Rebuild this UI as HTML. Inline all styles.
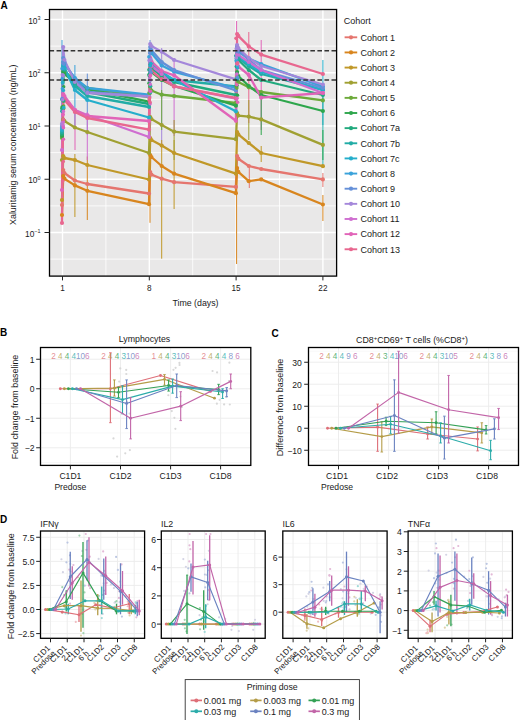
<!DOCTYPE html>
<html><head><meta charset="utf-8"><style>
html,body{margin:0;padding:0;background:#fff;}
svg{display:block;font-family:"Liberation Sans", sans-serif;}
</style></head><body>
<svg width="520" height="720" viewBox="0 0 520 720">
<rect width="520" height="720" fill="#fff"/>
<rect x="49.5" y="9.5" width="287.1" height="266.6" fill="#E9E8E8"/>
<line x1="105.90" y1="9.50" x2="105.90" y2="276.10" stroke="#fff" stroke-width="0.8" />
<line x1="192.70" y1="9.50" x2="192.70" y2="276.10" stroke="#fff" stroke-width="0.8" />
<line x1="279.50" y1="9.50" x2="279.50" y2="276.10" stroke="#fff" stroke-width="0.8" />
<line x1="49.50" y1="259.12" x2="336.60" y2="259.12" stroke="#fff" stroke-width="0.8" />
<line x1="49.50" y1="205.88" x2="336.60" y2="205.88" stroke="#fff" stroke-width="0.8" />
<line x1="49.50" y1="152.62" x2="336.60" y2="152.62" stroke="#fff" stroke-width="0.8" />
<line x1="49.50" y1="99.38" x2="336.60" y2="99.38" stroke="#fff" stroke-width="0.8" />
<line x1="49.50" y1="46.12" x2="336.60" y2="46.12" stroke="#fff" stroke-width="0.8" />
<line x1="62.50" y1="9.50" x2="62.50" y2="276.10" stroke="#fff" stroke-width="1.4" />
<line x1="149.30" y1="9.50" x2="149.30" y2="276.10" stroke="#fff" stroke-width="1.4" />
<line x1="236.10" y1="9.50" x2="236.10" y2="276.10" stroke="#fff" stroke-width="1.4" />
<line x1="322.90" y1="9.50" x2="322.90" y2="276.10" stroke="#fff" stroke-width="1.4" />
<line x1="49.50" y1="232.50" x2="336.60" y2="232.50" stroke="#fff" stroke-width="1.4" />
<line x1="49.50" y1="179.25" x2="336.60" y2="179.25" stroke="#fff" stroke-width="1.4" />
<line x1="49.50" y1="126.00" x2="336.60" y2="126.00" stroke="#fff" stroke-width="1.4" />
<line x1="49.50" y1="72.75" x2="336.60" y2="72.75" stroke="#fff" stroke-width="1.4" />
<line x1="49.50" y1="19.50" x2="336.60" y2="19.50" stroke="#fff" stroke-width="1.4" />
<g><line x1="74.90" y1="65.00" x2="74.90" y2="128.00" stroke="#3AA2DA" stroke-width="1.0"/><line x1="87.30" y1="73.60" x2="87.30" y2="135.00" stroke="#6590D8" stroke-width="1.0"/><line x1="161.70" y1="48.00" x2="161.70" y2="145.00" stroke="#A487DA" stroke-width="1.0"/><line x1="174.10" y1="58.00" x2="174.10" y2="136.00" stroke="#CF6ED0" stroke-width="1.0"/><line x1="248.80" y1="32.00" x2="248.80" y2="123.00" stroke="#E8678F" stroke-width="1.0"/><line x1="261.20" y1="40.00" x2="261.20" y2="130.00" stroke="#E164B8" stroke-width="1.0"/><line x1="322.90" y1="60.00" x2="322.90" y2="125.00" stroke="#25AECB" stroke-width="1.0"/><line x1="74.90" y1="154.00" x2="74.90" y2="217.00" stroke="#C09828" stroke-width="1.0"/><line x1="87.30" y1="156.50" x2="87.30" y2="220.00" stroke="#D8851E" stroke-width="1.0"/><line x1="150.00" y1="140.00" x2="150.00" y2="222.80" stroke="#D8851E" stroke-width="1.0"/><line x1="161.70" y1="140.00" x2="161.70" y2="258.70" stroke="#C09828" stroke-width="1.0"/><line x1="174.10" y1="140.00" x2="174.10" y2="209.00" stroke="#C09828" stroke-width="1.0"/><line x1="249.30" y1="165.00" x2="249.30" y2="188.00" stroke="#E5756E" stroke-width="1.0"/><line x1="261.20" y1="146.00" x2="261.20" y2="162.00" stroke="#C09828" stroke-width="1.0"/><line x1="322.90" y1="195.00" x2="322.90" y2="221.00" stroke="#D8851E" stroke-width="1.0"/><line x1="322.90" y1="173.00" x2="322.90" y2="187.00" stroke="#E5756E" stroke-width="1.0"/><line x1="322.90" y1="86.00" x2="322.90" y2="168.00" stroke="#22ACA6" stroke-width="1.0"/><line x1="62.00" y1="40.00" x2="62.00" y2="140.00" stroke="#3AA2DA" stroke-width="1.0"/><line x1="62.30" y1="140.00" x2="62.30" y2="223.00" stroke="#E8678F" stroke-width="1.0"/><line x1="236.60" y1="21.00" x2="236.60" y2="140.00" stroke="#E164B8" stroke-width="1.0"/><line x1="236.60" y1="140.00" x2="236.60" y2="264.00" stroke="#D8851E" stroke-width="1.0"/><line x1="150.00" y1="40.00" x2="150.00" y2="90.00" stroke="#6590D8" stroke-width="1.0"/><line x1="75.00" y1="110.00" x2="75.00" y2="150.00" stroke="#E164B8" stroke-width="1.0"/><line x1="87.30" y1="112.00" x2="87.30" y2="160.00" stroke="#CF6ED0" stroke-width="1.0"/><line x1="161.70" y1="90.00" x2="161.70" y2="130.00" stroke="#6DAA3A" stroke-width="1.0"/><line x1="174.10" y1="120.00" x2="174.10" y2="160.00" stroke="#A0A032" stroke-width="1.0"/><line x1="248.80" y1="100.00" x2="248.80" y2="140.00" stroke="#A0A032" stroke-width="1.0"/><line x1="261.20" y1="95.00" x2="261.20" y2="135.00" stroke="#2EA64C" stroke-width="1.0"/><line x1="322.90" y1="130.00" x2="322.90" y2="160.00" stroke="#2EA64C" stroke-width="1.0"/><polyline points="62.00,205.00 63.20,170.00 64.40,173.00 74.90,180.50 87.30,184.00 149.00,193.50 150.20,172.00 151.40,174.60 161.70,178.70 174.10,182.20 235.90,186.90 237.10,156.00 238.30,158.70 248.80,166.00 261.20,169.00 322.90,179.40" fill="none" stroke="#E5756E" stroke-width="2.3" stroke-linejoin="round"/><polyline points="62.00,215.00 63.20,176.00 64.40,178.70 74.90,185.40 87.30,190.80 149.00,204.20 150.20,155.00 151.40,157.00 161.70,166.00 174.10,173.70 235.90,193.20 237.10,168.00 238.30,171.90 248.80,181.20 261.20,179.40 322.90,204.50" fill="none" stroke="#D8851E" stroke-width="2.3" stroke-linejoin="round"/><polyline points="62.00,200.00 63.20,156.00 64.40,158.00 74.90,160.00 87.30,165.00 149.00,179.50 150.20,138.00 151.40,140.00 161.70,145.60 174.10,153.00 235.90,173.70 237.10,132.00 238.30,134.40 248.80,143.00 261.20,153.00 322.90,166.20" fill="none" stroke="#C09828" stroke-width="2.3" stroke-linejoin="round"/><polyline points="62.00,160.00 63.20,119.50 64.40,121.00 74.90,127.50 87.30,132.00 149.00,153.00 150.20,117.00 151.40,119.00 161.70,125.00 174.10,131.70 235.90,139.20 237.10,113.00 238.30,115.60 248.80,116.70 261.20,119.40 322.90,144.90" fill="none" stroke="#A0A032" stroke-width="2.3" stroke-linejoin="round"/><polyline points="62.00,138.00 63.20,70.00 64.40,72.00 74.90,80.00 87.30,88.00 149.00,97.00 150.20,86.00 151.40,90.50 161.70,94.70 174.10,96.00 235.90,103.00 237.10,78.00 238.30,82.00 248.80,87.30 261.20,92.00 322.90,100.40" fill="none" stroke="#6DAA3A" stroke-width="2.3" stroke-linejoin="round"/><polyline points="62.00,136.00 63.20,72.00 64.40,74.00 74.90,82.00 87.30,89.00 149.00,101.60 150.20,68.00 151.40,72.00 161.70,80.00 174.10,86.00 235.90,105.70 237.10,72.00 238.30,76.00 248.80,86.00 261.20,95.00 322.90,111.00" fill="none" stroke="#2EA64C" stroke-width="2.3" stroke-linejoin="round"/><polyline points="62.00,134.00 63.20,68.00 64.40,70.00 74.90,84.00 87.30,92.00 149.00,104.00 150.20,64.00 151.40,68.00 161.70,76.00 174.10,82.00 235.90,95.00 237.10,56.00 238.30,60.00 248.80,70.00 261.20,80.00 322.90,95.00" fill="none" stroke="#22AA7E" stroke-width="2.3" stroke-linejoin="round"/><polyline points="62.00,132.00 63.20,66.00 64.40,69.00 74.90,86.00 87.30,96.00 149.00,107.00 150.20,62.00 151.40,66.00 161.70,74.00 174.10,80.00 235.90,86.50 237.10,54.00 238.30,58.00 248.80,66.00 261.20,74.00 322.90,90.00" fill="none" stroke="#22ACA6" stroke-width="2.3" stroke-linejoin="round"/><polyline points="62.00,130.00 63.20,65.00 64.40,68.00 74.90,90.00 87.30,100.00 149.00,117.50 150.20,59.00 151.40,63.00 161.70,72.00 174.10,80.00 235.90,111.30 237.10,52.00 238.30,56.00 248.80,64.00 261.20,72.00 322.90,89.80" fill="none" stroke="#25AECB" stroke-width="2.3" stroke-linejoin="round"/><polyline points="62.00,128.00 63.20,62.00 64.40,64.00 74.90,78.00 87.30,88.00 149.00,94.60 150.20,50.00 151.40,53.00 161.70,65.50 174.10,71.80 235.90,88.00 237.10,48.00 238.30,52.00 248.80,58.50 261.20,64.00 322.90,86.60" fill="none" stroke="#3AA2DA" stroke-width="2.3" stroke-linejoin="round"/><polyline points="62.00,126.00 63.20,58.00 64.40,62.00 74.90,80.00 87.30,92.00 149.00,96.30 150.20,47.00 151.40,50.00 161.70,62.00 174.10,70.00 235.90,90.50 237.10,46.00 238.30,50.00 248.80,60.00 261.20,70.00 322.90,88.00" fill="none" stroke="#6590D8" stroke-width="2.3" stroke-linejoin="round"/><polyline points="62.00,124.00 63.20,47.00 64.40,60.00 74.90,82.00 87.30,93.00 149.00,96.50 150.20,44.00 151.40,46.00 161.70,51.70 174.10,60.00 235.90,79.30 237.10,45.00 238.30,48.00 248.80,58.00 261.20,66.00 322.90,84.50" fill="none" stroke="#A487DA" stroke-width="2.3" stroke-linejoin="round"/><polyline points="62.00,150.00 63.20,96.00 64.40,98.00 74.90,110.00 87.30,115.00 149.00,137.00 150.20,63.00 151.40,66.00 161.70,74.00 174.10,86.40 235.90,98.50 237.10,52.00 238.30,55.00 248.80,62.00 261.20,70.00 322.90,93.00" fill="none" stroke="#CF6ED0" stroke-width="2.3" stroke-linejoin="round"/><polyline points="62.00,190.00 63.20,94.00 64.40,96.00 74.90,110.00 87.30,116.00 149.00,121.00 150.20,58.00 151.40,61.40 161.70,71.00 174.10,75.30 235.90,120.80 237.10,62.00 238.30,66.50 248.80,75.00 261.20,97.70 322.90,93.00" fill="none" stroke="#E164B8" stroke-width="2.3" stroke-linejoin="round"/><polyline points="62.00,223.00 63.20,100.00 64.40,100.00 74.90,112.00 87.30,118.00 149.00,129.60 150.20,68.00 151.40,71.00 161.70,79.00 174.10,86.40 235.90,98.00 237.10,34.00 238.30,35.90 248.80,46.40 261.20,54.60 322.90,74.00" fill="none" stroke="#E8678F" stroke-width="2.3" stroke-linejoin="round"/><circle cx="62.00" cy="205.00" r="2.1" fill="#E5756E"/><circle cx="63.20" cy="170.00" r="2.1" fill="#E5756E"/><circle cx="64.40" cy="173.00" r="2.1" fill="#E5756E"/><circle cx="74.90" cy="180.50" r="2.1" fill="#E5756E"/><circle cx="87.30" cy="184.00" r="2.1" fill="#E5756E"/><circle cx="149.00" cy="193.50" r="2.1" fill="#E5756E"/><circle cx="150.20" cy="172.00" r="2.1" fill="#E5756E"/><circle cx="151.40" cy="174.60" r="2.1" fill="#E5756E"/><circle cx="161.70" cy="178.70" r="2.1" fill="#E5756E"/><circle cx="174.10" cy="182.20" r="2.1" fill="#E5756E"/><circle cx="235.90" cy="186.90" r="2.1" fill="#E5756E"/><circle cx="237.10" cy="156.00" r="2.1" fill="#E5756E"/><circle cx="238.30" cy="158.70" r="2.1" fill="#E5756E"/><circle cx="248.80" cy="166.00" r="2.1" fill="#E5756E"/><circle cx="261.20" cy="169.00" r="2.1" fill="#E5756E"/><circle cx="322.90" cy="179.40" r="2.1" fill="#E5756E"/><circle cx="62.00" cy="215.00" r="2.1" fill="#D8851E"/><circle cx="63.20" cy="176.00" r="2.1" fill="#D8851E"/><circle cx="64.40" cy="178.70" r="2.1" fill="#D8851E"/><circle cx="74.90" cy="185.40" r="2.1" fill="#D8851E"/><circle cx="87.30" cy="190.80" r="2.1" fill="#D8851E"/><circle cx="149.00" cy="204.20" r="2.1" fill="#D8851E"/><circle cx="150.20" cy="155.00" r="2.1" fill="#D8851E"/><circle cx="151.40" cy="157.00" r="2.1" fill="#D8851E"/><circle cx="161.70" cy="166.00" r="2.1" fill="#D8851E"/><circle cx="174.10" cy="173.70" r="2.1" fill="#D8851E"/><circle cx="235.90" cy="193.20" r="2.1" fill="#D8851E"/><circle cx="237.10" cy="168.00" r="2.1" fill="#D8851E"/><circle cx="238.30" cy="171.90" r="2.1" fill="#D8851E"/><circle cx="248.80" cy="181.20" r="2.1" fill="#D8851E"/><circle cx="261.20" cy="179.40" r="2.1" fill="#D8851E"/><circle cx="322.90" cy="204.50" r="2.1" fill="#D8851E"/><circle cx="62.00" cy="200.00" r="2.1" fill="#C09828"/><circle cx="63.20" cy="156.00" r="2.1" fill="#C09828"/><circle cx="64.40" cy="158.00" r="2.1" fill="#C09828"/><circle cx="74.90" cy="160.00" r="2.1" fill="#C09828"/><circle cx="87.30" cy="165.00" r="2.1" fill="#C09828"/><circle cx="149.00" cy="179.50" r="2.1" fill="#C09828"/><circle cx="150.20" cy="138.00" r="2.1" fill="#C09828"/><circle cx="151.40" cy="140.00" r="2.1" fill="#C09828"/><circle cx="161.70" cy="145.60" r="2.1" fill="#C09828"/><circle cx="174.10" cy="153.00" r="2.1" fill="#C09828"/><circle cx="235.90" cy="173.70" r="2.1" fill="#C09828"/><circle cx="237.10" cy="132.00" r="2.1" fill="#C09828"/><circle cx="238.30" cy="134.40" r="2.1" fill="#C09828"/><circle cx="248.80" cy="143.00" r="2.1" fill="#C09828"/><circle cx="261.20" cy="153.00" r="2.1" fill="#C09828"/><circle cx="322.90" cy="166.20" r="2.1" fill="#C09828"/><circle cx="62.00" cy="160.00" r="2.1" fill="#A0A032"/><circle cx="63.20" cy="119.50" r="2.1" fill="#A0A032"/><circle cx="64.40" cy="121.00" r="2.1" fill="#A0A032"/><circle cx="74.90" cy="127.50" r="2.1" fill="#A0A032"/><circle cx="87.30" cy="132.00" r="2.1" fill="#A0A032"/><circle cx="149.00" cy="153.00" r="2.1" fill="#A0A032"/><circle cx="150.20" cy="117.00" r="2.1" fill="#A0A032"/><circle cx="151.40" cy="119.00" r="2.1" fill="#A0A032"/><circle cx="161.70" cy="125.00" r="2.1" fill="#A0A032"/><circle cx="174.10" cy="131.70" r="2.1" fill="#A0A032"/><circle cx="235.90" cy="139.20" r="2.1" fill="#A0A032"/><circle cx="237.10" cy="113.00" r="2.1" fill="#A0A032"/><circle cx="238.30" cy="115.60" r="2.1" fill="#A0A032"/><circle cx="248.80" cy="116.70" r="2.1" fill="#A0A032"/><circle cx="261.20" cy="119.40" r="2.1" fill="#A0A032"/><circle cx="322.90" cy="144.90" r="2.1" fill="#A0A032"/><circle cx="62.00" cy="138.00" r="2.1" fill="#6DAA3A"/><circle cx="63.20" cy="70.00" r="2.1" fill="#6DAA3A"/><circle cx="64.40" cy="72.00" r="2.1" fill="#6DAA3A"/><circle cx="74.90" cy="80.00" r="2.1" fill="#6DAA3A"/><circle cx="87.30" cy="88.00" r="2.1" fill="#6DAA3A"/><circle cx="149.00" cy="97.00" r="2.1" fill="#6DAA3A"/><circle cx="150.20" cy="86.00" r="2.1" fill="#6DAA3A"/><circle cx="151.40" cy="90.50" r="2.1" fill="#6DAA3A"/><circle cx="161.70" cy="94.70" r="2.1" fill="#6DAA3A"/><circle cx="174.10" cy="96.00" r="2.1" fill="#6DAA3A"/><circle cx="235.90" cy="103.00" r="2.1" fill="#6DAA3A"/><circle cx="237.10" cy="78.00" r="2.1" fill="#6DAA3A"/><circle cx="238.30" cy="82.00" r="2.1" fill="#6DAA3A"/><circle cx="248.80" cy="87.30" r="2.1" fill="#6DAA3A"/><circle cx="261.20" cy="92.00" r="2.1" fill="#6DAA3A"/><circle cx="322.90" cy="100.40" r="2.1" fill="#6DAA3A"/><circle cx="62.00" cy="136.00" r="2.1" fill="#2EA64C"/><circle cx="63.20" cy="72.00" r="2.1" fill="#2EA64C"/><circle cx="64.40" cy="74.00" r="2.1" fill="#2EA64C"/><circle cx="74.90" cy="82.00" r="2.1" fill="#2EA64C"/><circle cx="87.30" cy="89.00" r="2.1" fill="#2EA64C"/><circle cx="149.00" cy="101.60" r="2.1" fill="#2EA64C"/><circle cx="150.20" cy="68.00" r="2.1" fill="#2EA64C"/><circle cx="151.40" cy="72.00" r="2.1" fill="#2EA64C"/><circle cx="161.70" cy="80.00" r="2.1" fill="#2EA64C"/><circle cx="174.10" cy="86.00" r="2.1" fill="#2EA64C"/><circle cx="235.90" cy="105.70" r="2.1" fill="#2EA64C"/><circle cx="237.10" cy="72.00" r="2.1" fill="#2EA64C"/><circle cx="238.30" cy="76.00" r="2.1" fill="#2EA64C"/><circle cx="248.80" cy="86.00" r="2.1" fill="#2EA64C"/><circle cx="261.20" cy="95.00" r="2.1" fill="#2EA64C"/><circle cx="322.90" cy="111.00" r="2.1" fill="#2EA64C"/><circle cx="62.00" cy="134.00" r="2.1" fill="#22AA7E"/><circle cx="63.20" cy="68.00" r="2.1" fill="#22AA7E"/><circle cx="64.40" cy="70.00" r="2.1" fill="#22AA7E"/><circle cx="74.90" cy="84.00" r="2.1" fill="#22AA7E"/><circle cx="87.30" cy="92.00" r="2.1" fill="#22AA7E"/><circle cx="149.00" cy="104.00" r="2.1" fill="#22AA7E"/><circle cx="150.20" cy="64.00" r="2.1" fill="#22AA7E"/><circle cx="151.40" cy="68.00" r="2.1" fill="#22AA7E"/><circle cx="161.70" cy="76.00" r="2.1" fill="#22AA7E"/><circle cx="174.10" cy="82.00" r="2.1" fill="#22AA7E"/><circle cx="235.90" cy="95.00" r="2.1" fill="#22AA7E"/><circle cx="237.10" cy="56.00" r="2.1" fill="#22AA7E"/><circle cx="238.30" cy="60.00" r="2.1" fill="#22AA7E"/><circle cx="248.80" cy="70.00" r="2.1" fill="#22AA7E"/><circle cx="261.20" cy="80.00" r="2.1" fill="#22AA7E"/><circle cx="322.90" cy="95.00" r="2.1" fill="#22AA7E"/><circle cx="62.00" cy="132.00" r="2.1" fill="#22ACA6"/><circle cx="63.20" cy="66.00" r="2.1" fill="#22ACA6"/><circle cx="64.40" cy="69.00" r="2.1" fill="#22ACA6"/><circle cx="74.90" cy="86.00" r="2.1" fill="#22ACA6"/><circle cx="87.30" cy="96.00" r="2.1" fill="#22ACA6"/><circle cx="149.00" cy="107.00" r="2.1" fill="#22ACA6"/><circle cx="150.20" cy="62.00" r="2.1" fill="#22ACA6"/><circle cx="151.40" cy="66.00" r="2.1" fill="#22ACA6"/><circle cx="161.70" cy="74.00" r="2.1" fill="#22ACA6"/><circle cx="174.10" cy="80.00" r="2.1" fill="#22ACA6"/><circle cx="235.90" cy="86.50" r="2.1" fill="#22ACA6"/><circle cx="237.10" cy="54.00" r="2.1" fill="#22ACA6"/><circle cx="238.30" cy="58.00" r="2.1" fill="#22ACA6"/><circle cx="248.80" cy="66.00" r="2.1" fill="#22ACA6"/><circle cx="261.20" cy="74.00" r="2.1" fill="#22ACA6"/><circle cx="322.90" cy="90.00" r="2.1" fill="#22ACA6"/><circle cx="62.00" cy="130.00" r="2.1" fill="#25AECB"/><circle cx="63.20" cy="65.00" r="2.1" fill="#25AECB"/><circle cx="64.40" cy="68.00" r="2.1" fill="#25AECB"/><circle cx="74.90" cy="90.00" r="2.1" fill="#25AECB"/><circle cx="87.30" cy="100.00" r="2.1" fill="#25AECB"/><circle cx="149.00" cy="117.50" r="2.1" fill="#25AECB"/><circle cx="150.20" cy="59.00" r="2.1" fill="#25AECB"/><circle cx="151.40" cy="63.00" r="2.1" fill="#25AECB"/><circle cx="161.70" cy="72.00" r="2.1" fill="#25AECB"/><circle cx="174.10" cy="80.00" r="2.1" fill="#25AECB"/><circle cx="235.90" cy="111.30" r="2.1" fill="#25AECB"/><circle cx="237.10" cy="52.00" r="2.1" fill="#25AECB"/><circle cx="238.30" cy="56.00" r="2.1" fill="#25AECB"/><circle cx="248.80" cy="64.00" r="2.1" fill="#25AECB"/><circle cx="261.20" cy="72.00" r="2.1" fill="#25AECB"/><circle cx="322.90" cy="89.80" r="2.1" fill="#25AECB"/><circle cx="62.00" cy="128.00" r="2.1" fill="#3AA2DA"/><circle cx="63.20" cy="62.00" r="2.1" fill="#3AA2DA"/><circle cx="64.40" cy="64.00" r="2.1" fill="#3AA2DA"/><circle cx="74.90" cy="78.00" r="2.1" fill="#3AA2DA"/><circle cx="87.30" cy="88.00" r="2.1" fill="#3AA2DA"/><circle cx="149.00" cy="94.60" r="2.1" fill="#3AA2DA"/><circle cx="150.20" cy="50.00" r="2.1" fill="#3AA2DA"/><circle cx="151.40" cy="53.00" r="2.1" fill="#3AA2DA"/><circle cx="161.70" cy="65.50" r="2.1" fill="#3AA2DA"/><circle cx="174.10" cy="71.80" r="2.1" fill="#3AA2DA"/><circle cx="235.90" cy="88.00" r="2.1" fill="#3AA2DA"/><circle cx="237.10" cy="48.00" r="2.1" fill="#3AA2DA"/><circle cx="238.30" cy="52.00" r="2.1" fill="#3AA2DA"/><circle cx="248.80" cy="58.50" r="2.1" fill="#3AA2DA"/><circle cx="261.20" cy="64.00" r="2.1" fill="#3AA2DA"/><circle cx="322.90" cy="86.60" r="2.1" fill="#3AA2DA"/><circle cx="62.00" cy="126.00" r="2.1" fill="#6590D8"/><circle cx="63.20" cy="58.00" r="2.1" fill="#6590D8"/><circle cx="64.40" cy="62.00" r="2.1" fill="#6590D8"/><circle cx="74.90" cy="80.00" r="2.1" fill="#6590D8"/><circle cx="87.30" cy="92.00" r="2.1" fill="#6590D8"/><circle cx="149.00" cy="96.30" r="2.1" fill="#6590D8"/><circle cx="150.20" cy="47.00" r="2.1" fill="#6590D8"/><circle cx="151.40" cy="50.00" r="2.1" fill="#6590D8"/><circle cx="161.70" cy="62.00" r="2.1" fill="#6590D8"/><circle cx="174.10" cy="70.00" r="2.1" fill="#6590D8"/><circle cx="235.90" cy="90.50" r="2.1" fill="#6590D8"/><circle cx="237.10" cy="46.00" r="2.1" fill="#6590D8"/><circle cx="238.30" cy="50.00" r="2.1" fill="#6590D8"/><circle cx="248.80" cy="60.00" r="2.1" fill="#6590D8"/><circle cx="261.20" cy="70.00" r="2.1" fill="#6590D8"/><circle cx="322.90" cy="88.00" r="2.1" fill="#6590D8"/><circle cx="62.00" cy="124.00" r="2.1" fill="#A487DA"/><circle cx="63.20" cy="47.00" r="2.1" fill="#A487DA"/><circle cx="64.40" cy="60.00" r="2.1" fill="#A487DA"/><circle cx="74.90" cy="82.00" r="2.1" fill="#A487DA"/><circle cx="87.30" cy="93.00" r="2.1" fill="#A487DA"/><circle cx="149.00" cy="96.50" r="2.1" fill="#A487DA"/><circle cx="150.20" cy="44.00" r="2.1" fill="#A487DA"/><circle cx="151.40" cy="46.00" r="2.1" fill="#A487DA"/><circle cx="161.70" cy="51.70" r="2.1" fill="#A487DA"/><circle cx="174.10" cy="60.00" r="2.1" fill="#A487DA"/><circle cx="235.90" cy="79.30" r="2.1" fill="#A487DA"/><circle cx="237.10" cy="45.00" r="2.1" fill="#A487DA"/><circle cx="238.30" cy="48.00" r="2.1" fill="#A487DA"/><circle cx="248.80" cy="58.00" r="2.1" fill="#A487DA"/><circle cx="261.20" cy="66.00" r="2.1" fill="#A487DA"/><circle cx="322.90" cy="84.50" r="2.1" fill="#A487DA"/><circle cx="62.00" cy="150.00" r="2.1" fill="#CF6ED0"/><circle cx="63.20" cy="96.00" r="2.1" fill="#CF6ED0"/><circle cx="64.40" cy="98.00" r="2.1" fill="#CF6ED0"/><circle cx="74.90" cy="110.00" r="2.1" fill="#CF6ED0"/><circle cx="87.30" cy="115.00" r="2.1" fill="#CF6ED0"/><circle cx="149.00" cy="137.00" r="2.1" fill="#CF6ED0"/><circle cx="150.20" cy="63.00" r="2.1" fill="#CF6ED0"/><circle cx="151.40" cy="66.00" r="2.1" fill="#CF6ED0"/><circle cx="161.70" cy="74.00" r="2.1" fill="#CF6ED0"/><circle cx="174.10" cy="86.40" r="2.1" fill="#CF6ED0"/><circle cx="235.90" cy="98.50" r="2.1" fill="#CF6ED0"/><circle cx="237.10" cy="52.00" r="2.1" fill="#CF6ED0"/><circle cx="238.30" cy="55.00" r="2.1" fill="#CF6ED0"/><circle cx="248.80" cy="62.00" r="2.1" fill="#CF6ED0"/><circle cx="261.20" cy="70.00" r="2.1" fill="#CF6ED0"/><circle cx="322.90" cy="93.00" r="2.1" fill="#CF6ED0"/><circle cx="62.00" cy="190.00" r="2.1" fill="#E164B8"/><circle cx="63.20" cy="94.00" r="2.1" fill="#E164B8"/><circle cx="64.40" cy="96.00" r="2.1" fill="#E164B8"/><circle cx="74.90" cy="110.00" r="2.1" fill="#E164B8"/><circle cx="87.30" cy="116.00" r="2.1" fill="#E164B8"/><circle cx="149.00" cy="121.00" r="2.1" fill="#E164B8"/><circle cx="150.20" cy="58.00" r="2.1" fill="#E164B8"/><circle cx="151.40" cy="61.40" r="2.1" fill="#E164B8"/><circle cx="161.70" cy="71.00" r="2.1" fill="#E164B8"/><circle cx="174.10" cy="75.30" r="2.1" fill="#E164B8"/><circle cx="235.90" cy="120.80" r="2.1" fill="#E164B8"/><circle cx="237.10" cy="62.00" r="2.1" fill="#E164B8"/><circle cx="238.30" cy="66.50" r="2.1" fill="#E164B8"/><circle cx="248.80" cy="75.00" r="2.1" fill="#E164B8"/><circle cx="261.20" cy="97.70" r="2.1" fill="#E164B8"/><circle cx="322.90" cy="93.00" r="2.1" fill="#E164B8"/><circle cx="62.00" cy="223.00" r="2.1" fill="#E8678F"/><circle cx="63.20" cy="100.00" r="2.1" fill="#E8678F"/><circle cx="64.40" cy="100.00" r="2.1" fill="#E8678F"/><circle cx="74.90" cy="112.00" r="2.1" fill="#E8678F"/><circle cx="87.30" cy="118.00" r="2.1" fill="#E8678F"/><circle cx="149.00" cy="129.60" r="2.1" fill="#E8678F"/><circle cx="150.20" cy="68.00" r="2.1" fill="#E8678F"/><circle cx="151.40" cy="71.00" r="2.1" fill="#E8678F"/><circle cx="161.70" cy="79.00" r="2.1" fill="#E8678F"/><circle cx="174.10" cy="86.40" r="2.1" fill="#E8678F"/><circle cx="235.90" cy="98.00" r="2.1" fill="#E8678F"/><circle cx="237.10" cy="34.00" r="2.1" fill="#E8678F"/><circle cx="238.30" cy="35.90" r="2.1" fill="#E8678F"/><circle cx="248.80" cy="46.40" r="2.1" fill="#E8678F"/><circle cx="261.20" cy="54.60" r="2.1" fill="#E8678F"/><circle cx="322.90" cy="74.00" r="2.1" fill="#E8678F"/><circle cx="63.28" cy="100.93" r="1.8" fill="#6DAA3A"/><circle cx="63.68" cy="108.55" r="1.8" fill="#6DAA3A"/><circle cx="63.64" cy="106.10" r="1.8" fill="#6DAA3A"/><circle cx="149.73" cy="86.76" r="1.8" fill="#6DAA3A"/><circle cx="150.10" cy="93.30" r="1.8" fill="#6DAA3A"/><circle cx="149.03" cy="92.99" r="1.8" fill="#6DAA3A"/><circle cx="236.19" cy="86.87" r="1.8" fill="#6DAA3A"/><circle cx="236.85" cy="88.09" r="1.8" fill="#6DAA3A"/><circle cx="236.13" cy="79.46" r="1.8" fill="#6DAA3A"/><circle cx="63.63" cy="86.83" r="1.8" fill="#2EA64C"/><circle cx="62.12" cy="107.05" r="1.8" fill="#2EA64C"/><circle cx="62.08" cy="108.36" r="1.8" fill="#2EA64C"/><circle cx="149.05" cy="83.17" r="1.8" fill="#2EA64C"/><circle cx="150.54" cy="69.72" r="1.8" fill="#2EA64C"/><circle cx="149.23" cy="74.25" r="1.8" fill="#2EA64C"/><circle cx="237.44" cy="95.20" r="1.8" fill="#2EA64C"/><circle cx="237.62" cy="80.02" r="1.8" fill="#2EA64C"/><circle cx="237.06" cy="85.50" r="1.8" fill="#2EA64C"/><circle cx="63.68" cy="80.09" r="1.8" fill="#22AA7E"/><circle cx="63.73" cy="100.93" r="1.8" fill="#22AA7E"/><circle cx="62.40" cy="109.64" r="1.8" fill="#22AA7E"/><circle cx="149.13" cy="75.39" r="1.8" fill="#22AA7E"/><circle cx="148.93" cy="69.79" r="1.8" fill="#22AA7E"/><circle cx="150.01" cy="73.84" r="1.8" fill="#22AA7E"/><circle cx="237.06" cy="58.04" r="1.8" fill="#22AA7E"/><circle cx="236.32" cy="66.52" r="1.8" fill="#22AA7E"/><circle cx="236.66" cy="78.70" r="1.8" fill="#22AA7E"/><circle cx="62.76" cy="82.85" r="1.8" fill="#22ACA6"/><circle cx="61.91" cy="99.53" r="1.8" fill="#22ACA6"/><circle cx="61.85" cy="111.13" r="1.8" fill="#22ACA6"/><circle cx="150.49" cy="86.18" r="1.8" fill="#22ACA6"/><circle cx="150.38" cy="64.78" r="1.8" fill="#22ACA6"/><circle cx="149.96" cy="74.96" r="1.8" fill="#22ACA6"/><circle cx="235.79" cy="55.82" r="1.8" fill="#22ACA6"/><circle cx="237.61" cy="59.45" r="1.8" fill="#22ACA6"/><circle cx="237.21" cy="59.78" r="1.8" fill="#22ACA6"/><circle cx="63.68" cy="107.53" r="1.8" fill="#25AECB"/><circle cx="62.51" cy="82.80" r="1.8" fill="#25AECB"/><circle cx="63.35" cy="90.42" r="1.8" fill="#25AECB"/><circle cx="150.30" cy="66.03" r="1.8" fill="#25AECB"/><circle cx="150.52" cy="92.24" r="1.8" fill="#25AECB"/><circle cx="150.69" cy="63.32" r="1.8" fill="#25AECB"/><circle cx="236.38" cy="58.48" r="1.8" fill="#25AECB"/><circle cx="237.54" cy="78.51" r="1.8" fill="#25AECB"/><circle cx="237.55" cy="68.07" r="1.8" fill="#25AECB"/><circle cx="62.42" cy="88.69" r="1.8" fill="#3AA2DA"/><circle cx="62.15" cy="78.89" r="1.8" fill="#3AA2DA"/><circle cx="62.10" cy="68.65" r="1.8" fill="#3AA2DA"/><circle cx="150.79" cy="72.21" r="1.8" fill="#3AA2DA"/><circle cx="148.90" cy="56.91" r="1.8" fill="#3AA2DA"/><circle cx="149.87" cy="80.83" r="1.8" fill="#3AA2DA"/><circle cx="236.17" cy="60.55" r="1.8" fill="#3AA2DA"/><circle cx="237.35" cy="65.44" r="1.8" fill="#3AA2DA"/><circle cx="236.54" cy="61.85" r="1.8" fill="#3AA2DA"/><circle cx="63.63" cy="63.86" r="1.8" fill="#6590D8"/><circle cx="62.79" cy="62.85" r="1.8" fill="#6590D8"/><circle cx="62.06" cy="98.46" r="1.8" fill="#6590D8"/><circle cx="150.70" cy="72.91" r="1.8" fill="#6590D8"/><circle cx="150.38" cy="69.67" r="1.8" fill="#6590D8"/><circle cx="149.67" cy="52.88" r="1.8" fill="#6590D8"/><circle cx="237.39" cy="52.54" r="1.8" fill="#6590D8"/><circle cx="236.61" cy="56.75" r="1.8" fill="#6590D8"/><circle cx="237.40" cy="77.13" r="1.8" fill="#6590D8"/><circle cx="62.71" cy="99.70" r="1.8" fill="#A487DA"/><circle cx="63.26" cy="75.28" r="1.8" fill="#A487DA"/><circle cx="62.38" cy="74.83" r="1.8" fill="#A487DA"/><circle cx="149.09" cy="60.40" r="1.8" fill="#A487DA"/><circle cx="150.78" cy="59.49" r="1.8" fill="#A487DA"/><circle cx="150.05" cy="79.38" r="1.8" fill="#A487DA"/><circle cx="236.38" cy="57.85" r="1.8" fill="#A487DA"/><circle cx="236.24" cy="48.70" r="1.8" fill="#A487DA"/><circle cx="237.43" cy="64.15" r="1.8" fill="#A487DA"/><circle cx="63.37" cy="111.38" r="1.8" fill="#CF6ED0"/><circle cx="63.19" cy="125.90" r="1.8" fill="#CF6ED0"/><circle cx="63.32" cy="122.01" r="1.8" fill="#CF6ED0"/><circle cx="150.21" cy="84.18" r="1.8" fill="#CF6ED0"/><circle cx="149.77" cy="80.21" r="1.8" fill="#CF6ED0"/><circle cx="150.18" cy="103.72" r="1.8" fill="#CF6ED0"/><circle cx="237.59" cy="63.21" r="1.8" fill="#CF6ED0"/><circle cx="236.86" cy="73.96" r="1.8" fill="#CF6ED0"/><circle cx="236.79" cy="54.68" r="1.8" fill="#CF6ED0"/><circle cx="63.14" cy="114.44" r="1.8" fill="#E164B8"/><circle cx="63.43" cy="127.69" r="1.8" fill="#E164B8"/><circle cx="63.40" cy="139.20" r="1.8" fill="#E164B8"/><circle cx="150.09" cy="75.40" r="1.8" fill="#E164B8"/><circle cx="150.46" cy="91.36" r="1.8" fill="#E164B8"/><circle cx="150.49" cy="75.48" r="1.8" fill="#E164B8"/><circle cx="237.08" cy="98.19" r="1.8" fill="#E164B8"/><circle cx="237.61" cy="102.25" r="1.8" fill="#E164B8"/><circle cx="236.76" cy="84.74" r="1.8" fill="#E164B8"/><circle cx="63.47" cy="119.44" r="1.8" fill="#E8678F"/><circle cx="62.75" cy="181.09" r="1.8" fill="#E8678F"/><circle cx="63.24" cy="161.43" r="1.8" fill="#E8678F"/><circle cx="149.14" cy="100.32" r="1.8" fill="#E8678F"/><circle cx="149.96" cy="102.33" r="1.8" fill="#E8678F"/><circle cx="149.64" cy="97.73" r="1.8" fill="#E8678F"/><circle cx="237.25" cy="63.15" r="1.8" fill="#E8678F"/><circle cx="237.14" cy="63.69" r="1.8" fill="#E8678F"/><circle cx="236.02" cy="38.35" r="1.8" fill="#E8678F"/></g>
<line x1="49.50" y1="50.80" x2="336.60" y2="50.80" stroke="#333" stroke-width="1.45" stroke-dasharray="4.6 2.45"/>
<line x1="49.50" y1="79.90" x2="336.60" y2="79.90" stroke="#333" stroke-width="1.45" stroke-dasharray="4.6 2.45"/>
<rect x="49.5" y="9.5" width="287.1" height="266.6" fill="none" stroke="#000" stroke-width="1.3"/>
<line x1="44.50" y1="19.50" x2="49.50" y2="19.50" stroke="#222" stroke-width="1" />
<text x="40.50" y="23.50" font-size="8.4" text-anchor="end" fill="#1a1a1a">10<tspan dy="-3.5" font-size="5.4">3</tspan></text>
<line x1="44.50" y1="72.75" x2="49.50" y2="72.75" stroke="#222" stroke-width="1" />
<text x="40.50" y="76.75" font-size="8.4" text-anchor="end" fill="#1a1a1a">10<tspan dy="-3.5" font-size="5.4">2</tspan></text>
<line x1="44.50" y1="126.00" x2="49.50" y2="126.00" stroke="#222" stroke-width="1" />
<text x="40.50" y="130.00" font-size="8.4" text-anchor="end" fill="#1a1a1a">10<tspan dy="-3.5" font-size="5.4">1</tspan></text>
<line x1="44.50" y1="179.25" x2="49.50" y2="179.25" stroke="#222" stroke-width="1" />
<text x="40.50" y="183.25" font-size="8.4" text-anchor="end" fill="#1a1a1a">10<tspan dy="-3.5" font-size="5.4">0</tspan></text>
<line x1="44.50" y1="232.50" x2="49.50" y2="232.50" stroke="#222" stroke-width="1" />
<text x="40.50" y="236.50" font-size="8.4" text-anchor="end" fill="#1a1a1a">10<tspan dy="-3.5" font-size="5.4">−1</tspan></text>
<line x1="62.50" y1="276.10" x2="62.50" y2="280.40" stroke="#222" stroke-width="1" />
<text x="62.50" y="291.00" font-size="8.2" text-anchor="middle" fill="#1a1a1a" font-weight="normal" >1</text>
<line x1="149.30" y1="276.10" x2="149.30" y2="280.40" stroke="#222" stroke-width="1" />
<text x="149.30" y="291.00" font-size="8.2" text-anchor="middle" fill="#1a1a1a" font-weight="normal" >8</text>
<line x1="236.10" y1="276.10" x2="236.10" y2="280.40" stroke="#222" stroke-width="1" />
<text x="236.10" y="291.00" font-size="8.2" text-anchor="middle" fill="#1a1a1a" font-weight="normal" >15</text>
<line x1="322.90" y1="276.10" x2="322.90" y2="280.40" stroke="#222" stroke-width="1" />
<text x="322.90" y="291.00" font-size="8.2" text-anchor="middle" fill="#1a1a1a" font-weight="normal" >22</text>
<text x="195.50" y="306.30" font-size="8.8" text-anchor="middle" fill="#1a1a1a" font-weight="normal" >Time (days)</text>
<text transform="translate(15.9,144.8) rotate(-90)" font-size="8.9" text-anchor="middle" fill="#1a1a1a">Xaluritamig serum concentration (ng/mL)</text>
<text x="0.50" y="8.80" font-size="10" text-anchor="start" fill="#000" font-weight="bold" >A</text>
<text x="343.70" y="24.40" font-size="9" text-anchor="start" fill="#1a1a1a" font-weight="normal" >Cohort</text>
<line x1="344.60" y1="37.30" x2="357.20" y2="37.30" stroke="#E5756E" stroke-width="1.9" />
<circle cx="351.00" cy="37.30" r="2.1" fill="#E5756E" />
<text x="360.60" y="40.60" font-size="9" text-anchor="start" fill="#1a1a1a" font-weight="normal" >Cohort 1</text>
<line x1="344.60" y1="52.44" x2="357.20" y2="52.44" stroke="#D8851E" stroke-width="1.9" />
<circle cx="351.00" cy="52.44" r="2.1" fill="#D8851E" />
<text x="360.60" y="55.74" font-size="9" text-anchor="start" fill="#1a1a1a" font-weight="normal" >Cohort 2</text>
<line x1="344.60" y1="67.58" x2="357.20" y2="67.58" stroke="#C09828" stroke-width="1.9" />
<circle cx="351.00" cy="67.58" r="2.1" fill="#C09828" />
<text x="360.60" y="70.88" font-size="9" text-anchor="start" fill="#1a1a1a" font-weight="normal" >Cohort 3</text>
<line x1="344.60" y1="82.72" x2="357.20" y2="82.72" stroke="#A0A032" stroke-width="1.9" />
<circle cx="351.00" cy="82.72" r="2.1" fill="#A0A032" />
<text x="360.60" y="86.02" font-size="9" text-anchor="start" fill="#1a1a1a" font-weight="normal" >Cohort 4</text>
<line x1="344.60" y1="97.86" x2="357.20" y2="97.86" stroke="#6DAA3A" stroke-width="1.9" />
<circle cx="351.00" cy="97.86" r="2.1" fill="#6DAA3A" />
<text x="360.60" y="101.16" font-size="9" text-anchor="start" fill="#1a1a1a" font-weight="normal" >Cohort 5</text>
<line x1="344.60" y1="113.00" x2="357.20" y2="113.00" stroke="#2EA64C" stroke-width="1.9" />
<circle cx="351.00" cy="113.00" r="2.1" fill="#2EA64C" />
<text x="360.60" y="116.30" font-size="9" text-anchor="start" fill="#1a1a1a" font-weight="normal" >Cohort 6</text>
<line x1="344.60" y1="128.14" x2="357.20" y2="128.14" stroke="#22AA7E" stroke-width="1.9" />
<circle cx="351.00" cy="128.14" r="2.1" fill="#22AA7E" />
<text x="360.60" y="131.44" font-size="9" text-anchor="start" fill="#1a1a1a" font-weight="normal" >Cohort 7a</text>
<line x1="344.60" y1="143.28" x2="357.20" y2="143.28" stroke="#22ACA6" stroke-width="1.9" />
<circle cx="351.00" cy="143.28" r="2.1" fill="#22ACA6" />
<text x="360.60" y="146.58" font-size="9" text-anchor="start" fill="#1a1a1a" font-weight="normal" >Cohort 7b</text>
<line x1="344.60" y1="158.42" x2="357.20" y2="158.42" stroke="#25AECB" stroke-width="1.9" />
<circle cx="351.00" cy="158.42" r="2.1" fill="#25AECB" />
<text x="360.60" y="161.72" font-size="9" text-anchor="start" fill="#1a1a1a" font-weight="normal" >Cohort 7c</text>
<line x1="344.60" y1="173.56" x2="357.20" y2="173.56" stroke="#3AA2DA" stroke-width="1.9" />
<circle cx="351.00" cy="173.56" r="2.1" fill="#3AA2DA" />
<text x="360.60" y="176.86" font-size="9" text-anchor="start" fill="#1a1a1a" font-weight="normal" >Cohort 8</text>
<line x1="344.60" y1="188.70" x2="357.20" y2="188.70" stroke="#6590D8" stroke-width="1.9" />
<circle cx="351.00" cy="188.70" r="2.1" fill="#6590D8" />
<text x="360.60" y="192.00" font-size="9" text-anchor="start" fill="#1a1a1a" font-weight="normal" >Cohort 9</text>
<line x1="344.60" y1="203.84" x2="357.20" y2="203.84" stroke="#A487DA" stroke-width="1.9" />
<circle cx="351.00" cy="203.84" r="2.1" fill="#A487DA" />
<text x="360.60" y="207.14" font-size="9" text-anchor="start" fill="#1a1a1a" font-weight="normal" >Cohort 10</text>
<line x1="344.60" y1="218.98" x2="357.20" y2="218.98" stroke="#CF6ED0" stroke-width="1.9" />
<circle cx="351.00" cy="218.98" r="2.1" fill="#CF6ED0" />
<text x="360.60" y="222.28" font-size="9" text-anchor="start" fill="#1a1a1a" font-weight="normal" >Cohort 11</text>
<line x1="344.60" y1="234.12" x2="357.20" y2="234.12" stroke="#E164B8" stroke-width="1.9" />
<circle cx="351.00" cy="234.12" r="2.1" fill="#E164B8" />
<text x="360.60" y="237.42" font-size="9" text-anchor="start" fill="#1a1a1a" font-weight="normal" >Cohort 12</text>
<line x1="344.60" y1="249.26" x2="357.20" y2="249.26" stroke="#E8678F" stroke-width="1.9" />
<circle cx="351.00" cy="249.26" r="2.1" fill="#E8678F" />
<text x="360.60" y="252.56" font-size="9" text-anchor="start" fill="#1a1a1a" font-weight="normal" >Cohort 13</text>
<rect x="40.5" y="347.5" width="210.3" height="117.89999999999998" fill="#fff"/>
<line x1="40.50" y1="374.00" x2="250.80" y2="374.00" stroke="#F3F3F3" stroke-width="0.6" />
<line x1="40.50" y1="403.50" x2="250.80" y2="403.50" stroke="#F3F3F3" stroke-width="0.6" />
<line x1="40.50" y1="433.00" x2="250.80" y2="433.00" stroke="#F3F3F3" stroke-width="0.6" />
<line x1="40.50" y1="462.50" x2="250.80" y2="462.50" stroke="#F3F3F3" stroke-width="0.6" />
<line x1="40.50" y1="359.25" x2="250.80" y2="359.25" stroke="#EBEBEB" stroke-width="0.9" />
<line x1="40.50" y1="388.75" x2="250.80" y2="388.75" stroke="#EBEBEB" stroke-width="0.9" />
<line x1="40.50" y1="418.25" x2="250.80" y2="418.25" stroke="#EBEBEB" stroke-width="0.9" />
<line x1="40.50" y1="447.75" x2="250.80" y2="447.75" stroke="#EBEBEB" stroke-width="0.9" />
<line x1="70.40" y1="347.50" x2="70.40" y2="465.40" stroke="#EBEBEB" stroke-width="0.9" />
<line x1="120.50" y1="347.50" x2="120.50" y2="465.40" stroke="#EBEBEB" stroke-width="0.9" />
<line x1="170.60" y1="347.50" x2="170.60" y2="465.40" stroke="#EBEBEB" stroke-width="0.9" />
<line x1="220.60" y1="347.50" x2="220.60" y2="465.40" stroke="#EBEBEB" stroke-width="0.9" />
<g><circle cx="125.27" cy="453.32" r="1.1" fill="#d8d8d8"/><circle cx="127.18" cy="402.01" r="1.1" fill="#d8d8d8"/><circle cx="117.13" cy="456.53" r="1.1" fill="#d8d8d8"/><circle cx="129.54" cy="413.53" r="1.1" fill="#d8d8d8"/><circle cx="126.31" cy="374.00" r="1.1" fill="#d8d8d8"/><circle cx="126.21" cy="369.88" r="1.1" fill="#d8d8d8"/><circle cx="119.19" cy="381.58" r="1.1" fill="#d8d8d8"/><circle cx="120.28" cy="368.47" r="1.1" fill="#d8d8d8"/><circle cx="129.84" cy="450.06" r="1.1" fill="#d8d8d8"/><circle cx="113.49" cy="438.43" r="1.1" fill="#d8d8d8"/><circle cx="181.84" cy="407.11" r="1.1" fill="#d8d8d8"/><circle cx="174.39" cy="417.87" r="1.1" fill="#d8d8d8"/><circle cx="171.76" cy="411.12" r="1.1" fill="#d8d8d8"/><circle cx="168.32" cy="395.25" r="1.1" fill="#d8d8d8"/><circle cx="173.45" cy="369.83" r="1.1" fill="#d8d8d8"/><circle cx="175.60" cy="367.86" r="1.1" fill="#d8d8d8"/><circle cx="179.44" cy="362.92" r="1.1" fill="#d8d8d8"/><circle cx="175.37" cy="428.86" r="1.1" fill="#d8d8d8"/><circle cx="179.53" cy="365.02" r="1.1" fill="#d8d8d8"/><circle cx="180.50" cy="396.52" r="1.1" fill="#d8d8d8"/><circle cx="226.30" cy="397.11" r="1.1" fill="#d8d8d8"/><circle cx="228.90" cy="381.07" r="1.1" fill="#d8d8d8"/><circle cx="216.87" cy="403.64" r="1.1" fill="#d8d8d8"/><circle cx="229.39" cy="362.65" r="1.1" fill="#d8d8d8"/><circle cx="212.55" cy="371.02" r="1.1" fill="#d8d8d8"/><circle cx="219.63" cy="399.78" r="1.1" fill="#d8d8d8"/><circle cx="217.07" cy="372.43" r="1.1" fill="#d8d8d8"/><circle cx="229.80" cy="404.49" r="1.1" fill="#d8d8d8"/><circle cx="224.12" cy="404.46" r="1.1" fill="#d8d8d8"/><circle cx="226.41" cy="391.81" r="1.1" fill="#d8d8d8"/><polyline points="60.30,388.75 110.40,388.75 160.50,375.48 210.50,391.40" fill="none" stroke="#DE6F78" stroke-width="1.15" stroke-linejoin="round"/><circle cx="60.30" cy="388.75" r="1.4" fill="#DE6F78"/><line x1="110.40" y1="422.68" x2="110.40" y2="352.76" stroke="#DE6F78" stroke-width="1.1"/><line x1="109.10" y1="422.68" x2="111.70" y2="422.68" stroke="#DE6F78" stroke-width="0.9"/><line x1="109.10" y1="352.76" x2="111.70" y2="352.76" stroke="#DE6F78" stroke-width="0.9"/><circle cx="110.40" cy="388.75" r="1.4" fill="#DE6F78"/><circle cx="160.50" cy="375.48" r="1.4" fill="#DE6F78"/><circle cx="210.50" cy="391.40" r="1.4" fill="#DE6F78"/><polyline points="64.30,388.75 114.40,388.16 164.50,379.31 214.50,398.19" fill="none" stroke="#B49C48" stroke-width="1.15" stroke-linejoin="round"/><circle cx="64.30" cy="388.75" r="1.4" fill="#B49C48"/><line x1="114.40" y1="396.12" x2="114.40" y2="379.90" stroke="#B49C48" stroke-width="1.1"/><line x1="113.10" y1="396.12" x2="115.70" y2="396.12" stroke="#B49C48" stroke-width="0.9"/><line x1="113.10" y1="379.90" x2="115.70" y2="379.90" stroke="#B49C48" stroke-width="0.9"/><circle cx="114.40" cy="388.16" r="1.4" fill="#B49C48"/><line x1="164.50" y1="385.21" x2="164.50" y2="374.59" stroke="#B49C48" stroke-width="1.1"/><line x1="163.20" y1="385.21" x2="165.80" y2="385.21" stroke="#B49C48" stroke-width="0.9"/><line x1="163.20" y1="374.59" x2="165.80" y2="374.59" stroke="#B49C48" stroke-width="0.9"/><circle cx="164.50" cy="379.31" r="1.4" fill="#B49C48"/><circle cx="214.50" cy="398.19" r="1.4" fill="#B49C48"/><polyline points="68.40,388.75 118.50,392.29 168.60,385.50 218.60,389.63" fill="none" stroke="#33A055" stroke-width="1.15" stroke-linejoin="round"/><circle cx="68.40" cy="388.75" r="1.4" fill="#33A055"/><line x1="118.50" y1="397.60" x2="118.50" y2="387.27" stroke="#33A055" stroke-width="1.1"/><line x1="117.20" y1="397.60" x2="119.80" y2="397.60" stroke="#33A055" stroke-width="0.9"/><line x1="117.20" y1="387.27" x2="119.80" y2="387.27" stroke="#33A055" stroke-width="0.9"/><circle cx="118.50" cy="392.29" r="1.4" fill="#33A055"/><line x1="168.60" y1="391.11" x2="168.60" y2="379.90" stroke="#33A055" stroke-width="1.1"/><line x1="167.30" y1="391.11" x2="169.90" y2="391.11" stroke="#33A055" stroke-width="0.9"/><line x1="167.30" y1="379.90" x2="169.90" y2="379.90" stroke="#33A055" stroke-width="0.9"/><circle cx="168.60" cy="385.50" r="1.4" fill="#33A055"/><line x1="218.60" y1="394.65" x2="218.60" y2="384.32" stroke="#33A055" stroke-width="1.1"/><line x1="217.30" y1="394.65" x2="219.90" y2="394.65" stroke="#33A055" stroke-width="0.9"/><line x1="217.30" y1="384.32" x2="219.90" y2="384.32" stroke="#33A055" stroke-width="0.9"/><circle cx="218.60" cy="389.63" r="1.4" fill="#33A055"/><polyline points="72.40,388.75 122.50,399.67 172.60,386.10 222.60,392.00" fill="none" stroke="#2CACAA" stroke-width="1.15" stroke-linejoin="round"/><circle cx="72.40" cy="388.75" r="1.4" fill="#2CACAA"/><line x1="122.50" y1="413.82" x2="122.50" y2="385.80" stroke="#2CACAA" stroke-width="1.1"/><line x1="121.20" y1="413.82" x2="123.80" y2="413.82" stroke="#2CACAA" stroke-width="0.9"/><line x1="121.20" y1="385.80" x2="123.80" y2="385.80" stroke="#2CACAA" stroke-width="0.9"/><circle cx="122.50" cy="399.67" r="1.4" fill="#2CACAA"/><line x1="172.60" y1="393.18" x2="172.60" y2="379.01" stroke="#2CACAA" stroke-width="1.1"/><line x1="171.30" y1="393.18" x2="173.90" y2="393.18" stroke="#2CACAA" stroke-width="0.9"/><line x1="171.30" y1="379.01" x2="173.90" y2="379.01" stroke="#2CACAA" stroke-width="0.9"/><circle cx="172.60" cy="386.10" r="1.4" fill="#2CACAA"/><line x1="222.60" y1="398.49" x2="222.60" y2="388.75" stroke="#2CACAA" stroke-width="1.1"/><line x1="221.30" y1="398.49" x2="223.90" y2="398.49" stroke="#2CACAA" stroke-width="0.9"/><line x1="221.30" y1="388.75" x2="223.90" y2="388.75" stroke="#2CACAA" stroke-width="0.9"/><circle cx="222.60" cy="392.00" r="1.4" fill="#2CACAA"/><polyline points="76.50,388.75 126.60,403.50 176.70,385.50 226.70,390.81" fill="none" stroke="#6A82C0" stroke-width="1.15" stroke-linejoin="round"/><circle cx="76.50" cy="388.75" r="1.4" fill="#6A82C0"/><line x1="126.60" y1="428.57" x2="126.60" y2="379.90" stroke="#6A82C0" stroke-width="1.1"/><line x1="125.30" y1="428.57" x2="127.90" y2="428.57" stroke="#6A82C0" stroke-width="0.9"/><line x1="125.30" y1="379.90" x2="127.90" y2="379.90" stroke="#6A82C0" stroke-width="0.9"/><circle cx="126.60" cy="403.50" r="1.4" fill="#6A82C0"/><line x1="176.70" y1="397.60" x2="176.70" y2="374.00" stroke="#6A82C0" stroke-width="1.1"/><line x1="175.40" y1="397.60" x2="178.00" y2="397.60" stroke="#6A82C0" stroke-width="0.9"/><line x1="175.40" y1="374.00" x2="178.00" y2="374.00" stroke="#6A82C0" stroke-width="0.9"/><circle cx="176.70" cy="385.50" r="1.4" fill="#6A82C0"/><line x1="226.70" y1="396.71" x2="226.70" y2="387.57" stroke="#6A82C0" stroke-width="1.1"/><line x1="225.40" y1="396.71" x2="228.00" y2="396.71" stroke="#6A82C0" stroke-width="0.9"/><line x1="225.40" y1="387.57" x2="228.00" y2="387.57" stroke="#6A82C0" stroke-width="0.9"/><circle cx="226.70" cy="390.81" r="1.4" fill="#6A82C0"/><polyline points="80.50,388.75 130.60,418.25 180.70,406.15 230.70,381.38" fill="none" stroke="#C265A8" stroke-width="1.15" stroke-linejoin="round"/><circle cx="80.50" cy="388.75" r="1.4" fill="#C265A8"/><line x1="130.60" y1="438.90" x2="130.60" y2="397.60" stroke="#C265A8" stroke-width="1.1"/><line x1="129.30" y1="438.90" x2="131.90" y2="438.90" stroke="#C265A8" stroke-width="0.9"/><line x1="129.30" y1="397.60" x2="131.90" y2="397.60" stroke="#C265A8" stroke-width="0.9"/><circle cx="130.60" cy="418.25" r="1.4" fill="#C265A8"/><line x1="180.70" y1="420.61" x2="180.70" y2="391.70" stroke="#C265A8" stroke-width="1.1"/><line x1="179.40" y1="420.61" x2="182.00" y2="420.61" stroke="#C265A8" stroke-width="0.9"/><line x1="179.40" y1="391.70" x2="182.00" y2="391.70" stroke="#C265A8" stroke-width="0.9"/><circle cx="180.70" cy="406.15" r="1.4" fill="#C265A8"/><line x1="230.70" y1="388.75" x2="230.70" y2="374.00" stroke="#C265A8" stroke-width="1.1"/><line x1="229.40" y1="388.75" x2="232.00" y2="388.75" stroke="#C265A8" stroke-width="0.9"/><line x1="229.40" y1="374.00" x2="232.00" y2="374.00" stroke="#C265A8" stroke-width="0.9"/><circle cx="230.70" cy="381.38" r="1.4" fill="#C265A8"/><text x="53.50" y="359.0" font-size="8.2" text-anchor="middle" fill="#DE6F78" fill-opacity="0.8">2</text><text x="60.30" y="359.0" font-size="8.2" text-anchor="middle" fill="#B49C48" fill-opacity="0.8">4</text><text x="67.00" y="359.0" font-size="8.2" text-anchor="middle" fill="#33A055" fill-opacity="0.8">4</text><text x="73.80" y="359.0" font-size="8.2" text-anchor="middle" fill="#2CACAA" fill-opacity="0.8">4</text><text x="80.50" y="359.0" font-size="8.2" text-anchor="middle" fill="#6A82C0" fill-opacity="0.8">10</text><text x="87.30" y="359.0" font-size="8.2" text-anchor="middle" fill="#C265A8" fill-opacity="0.8">6</text><text x="103.60" y="359.0" font-size="8.2" text-anchor="middle" fill="#DE6F78" fill-opacity="0.8">2</text><text x="110.40" y="359.0" font-size="8.2" text-anchor="middle" fill="#B49C48" fill-opacity="0.8">4</text><text x="117.10" y="359.0" font-size="8.2" text-anchor="middle" fill="#33A055" fill-opacity="0.8">4</text><text x="123.90" y="359.0" font-size="8.2" text-anchor="middle" fill="#2CACAA" fill-opacity="0.8">3</text><text x="130.60" y="359.0" font-size="8.2" text-anchor="middle" fill="#6A82C0" fill-opacity="0.8">10</text><text x="137.40" y="359.0" font-size="8.2" text-anchor="middle" fill="#C265A8" fill-opacity="0.8">6</text><text x="153.70" y="359.0" font-size="8.2" text-anchor="middle" fill="#DE6F78" fill-opacity="0.8">1</text><text x="160.50" y="359.0" font-size="8.2" text-anchor="middle" fill="#B49C48" fill-opacity="0.8">4</text><text x="167.20" y="359.0" font-size="8.2" text-anchor="middle" fill="#33A055" fill-opacity="0.8">4</text><text x="174.00" y="359.0" font-size="8.2" text-anchor="middle" fill="#2CACAA" fill-opacity="0.8">3</text><text x="180.70" y="359.0" font-size="8.2" text-anchor="middle" fill="#6A82C0" fill-opacity="0.8">10</text><text x="187.50" y="359.0" font-size="8.2" text-anchor="middle" fill="#C265A8" fill-opacity="0.8">6</text><text x="203.70" y="359.0" font-size="8.2" text-anchor="middle" fill="#DE6F78" fill-opacity="0.8">2</text><text x="210.50" y="359.0" font-size="8.2" text-anchor="middle" fill="#B49C48" fill-opacity="0.8">4</text><text x="217.20" y="359.0" font-size="8.2" text-anchor="middle" fill="#33A055" fill-opacity="0.8">4</text><text x="224.00" y="359.0" font-size="8.2" text-anchor="middle" fill="#2CACAA" fill-opacity="0.8">4</text><text x="230.70" y="359.0" font-size="8.2" text-anchor="middle" fill="#6A82C0" fill-opacity="0.8">8</text><text x="237.50" y="359.0" font-size="8.2" text-anchor="middle" fill="#C265A8" fill-opacity="0.8">6</text></g>
<rect x="40.5" y="347.5" width="210.3" height="117.89999999999998" fill="none" stroke="#000" stroke-width="1.3"/>
<line x1="36.20" y1="359.25" x2="40.50" y2="359.25" stroke="#222" stroke-width="1" />
<text x="34.50" y="362.75" font-size="8.6" text-anchor="end" fill="#1a1a1a" font-weight="normal" >1</text>
<line x1="36.20" y1="388.75" x2="40.50" y2="388.75" stroke="#222" stroke-width="1" />
<text x="34.50" y="392.25" font-size="8.6" text-anchor="end" fill="#1a1a1a" font-weight="normal" >0</text>
<line x1="36.20" y1="418.25" x2="40.50" y2="418.25" stroke="#222" stroke-width="1" />
<text x="34.50" y="421.75" font-size="8.6" text-anchor="end" fill="#1a1a1a" font-weight="normal" >−1</text>
<line x1="36.20" y1="447.75" x2="40.50" y2="447.75" stroke="#222" stroke-width="1" />
<text x="34.50" y="451.25" font-size="8.6" text-anchor="end" fill="#1a1a1a" font-weight="normal" >−2</text>
<line x1="70.40" y1="465.40" x2="70.40" y2="469.40" stroke="#222" stroke-width="1" />
<line x1="120.50" y1="465.40" x2="120.50" y2="469.40" stroke="#222" stroke-width="1" />
<line x1="170.60" y1="465.40" x2="170.60" y2="469.40" stroke="#222" stroke-width="1" />
<line x1="220.60" y1="465.40" x2="220.60" y2="469.40" stroke="#222" stroke-width="1" />
<text x="144.50" y="342.00" font-size="8.8" text-anchor="middle" fill="#1a1a1a" font-weight="normal" >Lymphocytes</text>
<text x="70.40" y="479.00" font-size="8.6" text-anchor="middle" fill="#1a1a1a" font-weight="normal" >C1D1</text>
<text x="70.40" y="490.00" font-size="8.6" text-anchor="middle" fill="#1a1a1a" font-weight="normal" >Predose</text>
<text x="120.50" y="479.00" font-size="8.6" text-anchor="middle" fill="#1a1a1a" font-weight="normal" >C1D2</text>
<text x="170.60" y="479.00" font-size="8.6" text-anchor="middle" fill="#1a1a1a" font-weight="normal" >C1D3</text>
<text x="220.60" y="479.00" font-size="8.6" text-anchor="middle" fill="#1a1a1a" font-weight="normal" >C1D8</text>
<text transform="translate(17.6,407.0) rotate(-90)" font-size="8.9" text-anchor="middle" fill="#1a1a1a">Fold change from baseline</text>
<text x="0.00" y="336.30" font-size="10" text-anchor="start" fill="#000" font-weight="bold" >B</text>
<rect x="308.5" y="347.5" width="210.0" height="117.89999999999998" fill="#fff"/>
<line x1="308.50" y1="351.25" x2="518.50" y2="351.25" stroke="#F3F3F3" stroke-width="0.6" />
<line x1="308.50" y1="373.25" x2="518.50" y2="373.25" stroke="#F3F3F3" stroke-width="0.6" />
<line x1="308.50" y1="395.25" x2="518.50" y2="395.25" stroke="#F3F3F3" stroke-width="0.6" />
<line x1="308.50" y1="417.25" x2="518.50" y2="417.25" stroke="#F3F3F3" stroke-width="0.6" />
<line x1="308.50" y1="439.25" x2="518.50" y2="439.25" stroke="#F3F3F3" stroke-width="0.6" />
<line x1="308.50" y1="461.25" x2="518.50" y2="461.25" stroke="#F3F3F3" stroke-width="0.6" />
<line x1="308.50" y1="362.25" x2="518.50" y2="362.25" stroke="#EBEBEB" stroke-width="0.9" />
<line x1="308.50" y1="384.25" x2="518.50" y2="384.25" stroke="#EBEBEB" stroke-width="0.9" />
<line x1="308.50" y1="406.25" x2="518.50" y2="406.25" stroke="#EBEBEB" stroke-width="0.9" />
<line x1="308.50" y1="428.25" x2="518.50" y2="428.25" stroke="#EBEBEB" stroke-width="0.9" />
<line x1="308.50" y1="450.25" x2="518.50" y2="450.25" stroke="#EBEBEB" stroke-width="0.9" />
<line x1="338.50" y1="347.50" x2="338.50" y2="465.40" stroke="#EBEBEB" stroke-width="0.9" />
<line x1="388.60" y1="347.50" x2="388.60" y2="465.40" stroke="#EBEBEB" stroke-width="0.9" />
<line x1="438.60" y1="347.50" x2="438.60" y2="465.40" stroke="#EBEBEB" stroke-width="0.9" />
<line x1="488.60" y1="347.50" x2="488.60" y2="465.40" stroke="#EBEBEB" stroke-width="0.9" />
<g><polyline points="327.50,428.25 377.60,427.15 427.60,433.97 477.60,439.03" fill="none" stroke="#DE6F78" stroke-width="1.15" stroke-linejoin="round"/><circle cx="327.50" cy="428.25" r="1.4" fill="#DE6F78"/><line x1="377.60" y1="451.35" x2="377.60" y2="404.05" stroke="#DE6F78" stroke-width="1.1"/><line x1="376.30" y1="451.35" x2="378.90" y2="451.35" stroke="#DE6F78" stroke-width="0.9"/><line x1="376.30" y1="404.05" x2="378.90" y2="404.05" stroke="#DE6F78" stroke-width="0.9"/><circle cx="377.60" cy="427.15" r="1.4" fill="#DE6F78"/><line x1="427.60" y1="439.03" x2="427.60" y2="426.93" stroke="#DE6F78" stroke-width="1.1"/><line x1="426.30" y1="439.03" x2="428.90" y2="439.03" stroke="#DE6F78" stroke-width="0.9"/><line x1="426.30" y1="426.93" x2="428.90" y2="426.93" stroke="#DE6F78" stroke-width="0.9"/><circle cx="427.60" cy="433.97" r="1.4" fill="#DE6F78"/><line x1="477.60" y1="450.91" x2="477.60" y2="426.93" stroke="#DE6F78" stroke-width="1.1"/><line x1="476.30" y1="450.91" x2="478.90" y2="450.91" stroke="#DE6F78" stroke-width="0.9"/><line x1="476.30" y1="426.93" x2="478.90" y2="426.93" stroke="#DE6F78" stroke-width="0.9"/><circle cx="477.60" cy="439.03" r="1.4" fill="#DE6F78"/><polyline points="331.70,428.25 381.80,436.61 431.80,426.93 481.80,432.87" fill="none" stroke="#B49C48" stroke-width="1.15" stroke-linejoin="round"/><circle cx="331.70" cy="428.25" r="1.4" fill="#B49C48"/><line x1="381.80" y1="452.01" x2="381.80" y2="421.65" stroke="#B49C48" stroke-width="1.1"/><line x1="380.50" y1="452.01" x2="383.10" y2="452.01" stroke="#B49C48" stroke-width="0.9"/><line x1="380.50" y1="421.65" x2="383.10" y2="421.65" stroke="#B49C48" stroke-width="0.9"/><circle cx="381.80" cy="436.61" r="1.4" fill="#B49C48"/><line x1="431.80" y1="433.97" x2="431.80" y2="419.01" stroke="#B49C48" stroke-width="1.1"/><line x1="430.50" y1="433.97" x2="433.10" y2="433.97" stroke="#B49C48" stroke-width="0.9"/><line x1="430.50" y1="419.01" x2="433.10" y2="419.01" stroke="#B49C48" stroke-width="0.9"/><circle cx="431.80" cy="426.93" r="1.4" fill="#B49C48"/><line x1="481.80" y1="442.99" x2="481.80" y2="422.75" stroke="#B49C48" stroke-width="1.1"/><line x1="480.50" y1="442.99" x2="483.10" y2="442.99" stroke="#B49C48" stroke-width="0.9"/><line x1="480.50" y1="422.75" x2="483.10" y2="422.75" stroke="#B49C48" stroke-width="0.9"/><circle cx="481.80" cy="432.87" r="1.4" fill="#B49C48"/><polyline points="336.00,428.25 386.10,421.21 436.10,422.75 486.10,429.90" fill="none" stroke="#33A055" stroke-width="1.15" stroke-linejoin="round"/><circle cx="336.00" cy="428.25" r="1.4" fill="#33A055"/><line x1="386.10" y1="425.61" x2="386.10" y2="417.25" stroke="#33A055" stroke-width="1.1"/><line x1="384.80" y1="425.61" x2="387.40" y2="425.61" stroke="#33A055" stroke-width="0.9"/><line x1="384.80" y1="417.25" x2="387.40" y2="417.25" stroke="#33A055" stroke-width="0.9"/><circle cx="386.10" cy="421.21" r="1.4" fill="#33A055"/><line x1="436.10" y1="433.75" x2="436.10" y2="411.75" stroke="#33A055" stroke-width="1.1"/><line x1="434.80" y1="433.75" x2="437.40" y2="433.75" stroke="#33A055" stroke-width="0.9"/><line x1="434.80" y1="411.75" x2="437.40" y2="411.75" stroke="#33A055" stroke-width="0.9"/><circle cx="436.10" cy="422.75" r="1.4" fill="#33A055"/><line x1="486.10" y1="433.97" x2="486.10" y2="425.61" stroke="#33A055" stroke-width="1.1"/><line x1="484.80" y1="433.97" x2="487.40" y2="433.97" stroke="#33A055" stroke-width="0.9"/><line x1="484.80" y1="425.61" x2="487.40" y2="425.61" stroke="#33A055" stroke-width="0.9"/><circle cx="486.10" cy="429.90" r="1.4" fill="#33A055"/><polyline points="340.50,428.25 390.60,424.29 440.60,435.95 490.60,450.69" fill="none" stroke="#2CACAA" stroke-width="1.15" stroke-linejoin="round"/><circle cx="340.50" cy="428.25" r="1.4" fill="#2CACAA"/><line x1="390.60" y1="433.75" x2="390.60" y2="416.37" stroke="#2CACAA" stroke-width="1.1"/><line x1="389.30" y1="433.75" x2="391.90" y2="433.75" stroke="#2CACAA" stroke-width="0.9"/><line x1="389.30" y1="416.37" x2="391.90" y2="416.37" stroke="#2CACAA" stroke-width="0.9"/><circle cx="390.60" cy="424.29" r="1.4" fill="#2CACAA"/><line x1="440.60" y1="442.99" x2="440.60" y2="422.75" stroke="#2CACAA" stroke-width="1.1"/><line x1="439.30" y1="442.99" x2="441.90" y2="442.99" stroke="#2CACAA" stroke-width="0.9"/><line x1="439.30" y1="422.75" x2="441.90" y2="422.75" stroke="#2CACAA" stroke-width="0.9"/><circle cx="440.60" cy="435.95" r="1.4" fill="#2CACAA"/><line x1="490.60" y1="459.71" x2="490.60" y2="440.35" stroke="#2CACAA" stroke-width="1.1"/><line x1="489.30" y1="459.71" x2="491.90" y2="459.71" stroke="#2CACAA" stroke-width="0.9"/><line x1="489.30" y1="440.35" x2="491.90" y2="440.35" stroke="#2CACAA" stroke-width="0.9"/><circle cx="490.60" cy="450.69" r="1.4" fill="#2CACAA"/><polyline points="344.30,428.25 394.40,415.49 444.40,438.15 494.40,428.91" fill="none" stroke="#6A82C0" stroke-width="1.15" stroke-linejoin="round"/><circle cx="344.30" cy="428.25" r="1.4" fill="#6A82C0"/><line x1="394.40" y1="451.35" x2="394.40" y2="379.85" stroke="#6A82C0" stroke-width="1.1"/><line x1="393.10" y1="451.35" x2="395.70" y2="451.35" stroke="#6A82C0" stroke-width="0.9"/><line x1="393.10" y1="379.85" x2="395.70" y2="379.85" stroke="#6A82C0" stroke-width="0.9"/><circle cx="394.40" cy="415.49" r="1.4" fill="#6A82C0"/><line x1="444.40" y1="459.05" x2="444.40" y2="416.15" stroke="#6A82C0" stroke-width="1.1"/><line x1="443.10" y1="459.05" x2="445.70" y2="459.05" stroke="#6A82C0" stroke-width="0.9"/><line x1="443.10" y1="416.15" x2="445.70" y2="416.15" stroke="#6A82C0" stroke-width="0.9"/><circle cx="444.40" cy="438.15" r="1.4" fill="#6A82C0"/><line x1="494.40" y1="439.03" x2="494.40" y2="418.79" stroke="#6A82C0" stroke-width="1.1"/><line x1="493.10" y1="439.03" x2="495.70" y2="439.03" stroke="#6A82C0" stroke-width="0.9"/><line x1="493.10" y1="418.79" x2="495.70" y2="418.79" stroke="#6A82C0" stroke-width="0.9"/><circle cx="494.40" cy="428.91" r="1.4" fill="#6A82C0"/><polyline points="348.50,428.25 398.60,392.39 448.60,409.77 498.60,417.69" fill="none" stroke="#C265A8" stroke-width="1.15" stroke-linejoin="round"/><circle cx="348.50" cy="428.25" r="1.4" fill="#C265A8"/><line x1="398.60" y1="433.31" x2="398.60" y2="351.25" stroke="#C265A8" stroke-width="1.1"/><line x1="397.30" y1="433.31" x2="399.90" y2="433.31" stroke="#C265A8" stroke-width="0.9"/><line x1="397.30" y1="351.25" x2="399.90" y2="351.25" stroke="#C265A8" stroke-width="0.9"/><circle cx="398.60" cy="392.39" r="1.4" fill="#C265A8"/><line x1="448.60" y1="442.99" x2="448.60" y2="375.45" stroke="#C265A8" stroke-width="1.1"/><line x1="447.30" y1="442.99" x2="449.90" y2="442.99" stroke="#C265A8" stroke-width="0.9"/><line x1="447.30" y1="375.45" x2="449.90" y2="375.45" stroke="#C265A8" stroke-width="0.9"/><circle cx="448.60" cy="409.77" r="1.4" fill="#C265A8"/><line x1="498.60" y1="429.57" x2="498.60" y2="408.45" stroke="#C265A8" stroke-width="1.1"/><line x1="497.30" y1="429.57" x2="499.90" y2="429.57" stroke="#C265A8" stroke-width="0.9"/><line x1="497.30" y1="408.45" x2="499.90" y2="408.45" stroke="#C265A8" stroke-width="0.9"/><circle cx="498.60" cy="417.69" r="1.4" fill="#C265A8"/><text x="321.60" y="359.0" font-size="8.2" text-anchor="middle" fill="#DE6F78" fill-opacity="0.8">2</text><text x="328.40" y="359.0" font-size="8.2" text-anchor="middle" fill="#B49C48" fill-opacity="0.8">4</text><text x="335.10" y="359.0" font-size="8.2" text-anchor="middle" fill="#33A055" fill-opacity="0.8">4</text><text x="341.90" y="359.0" font-size="8.2" text-anchor="middle" fill="#2CACAA" fill-opacity="0.8">4</text><text x="348.60" y="359.0" font-size="8.2" text-anchor="middle" fill="#6A82C0" fill-opacity="0.8">9</text><text x="355.40" y="359.0" font-size="8.2" text-anchor="middle" fill="#C265A8" fill-opacity="0.8">6</text><text x="371.70" y="359.0" font-size="8.2" text-anchor="middle" fill="#DE6F78" fill-opacity="0.8">2</text><text x="378.50" y="359.0" font-size="8.2" text-anchor="middle" fill="#B49C48" fill-opacity="0.8">4</text><text x="385.20" y="359.0" font-size="8.2" text-anchor="middle" fill="#33A055" fill-opacity="0.8">3</text><text x="392.00" y="359.0" font-size="8.2" text-anchor="middle" fill="#2CACAA" fill-opacity="0.8">4</text><text x="398.70" y="359.0" font-size="8.2" text-anchor="middle" fill="#6A82C0" fill-opacity="0.8">10</text><text x="405.50" y="359.0" font-size="8.2" text-anchor="middle" fill="#C265A8" fill-opacity="0.8">6</text><text x="421.70" y="359.0" font-size="8.2" text-anchor="middle" fill="#DE6F78" fill-opacity="0.8">2</text><text x="428.50" y="359.0" font-size="8.2" text-anchor="middle" fill="#B49C48" fill-opacity="0.8">4</text><text x="435.20" y="359.0" font-size="8.2" text-anchor="middle" fill="#33A055" fill-opacity="0.8">4</text><text x="442.00" y="359.0" font-size="8.2" text-anchor="middle" fill="#2CACAA" fill-opacity="0.8">3</text><text x="448.70" y="359.0" font-size="8.2" text-anchor="middle" fill="#6A82C0" fill-opacity="0.8">10</text><text x="455.50" y="359.0" font-size="8.2" text-anchor="middle" fill="#C265A8" fill-opacity="0.8">5</text><text x="471.70" y="359.0" font-size="8.2" text-anchor="middle" fill="#DE6F78" fill-opacity="0.8">2</text><text x="478.50" y="359.0" font-size="8.2" text-anchor="middle" fill="#B49C48" fill-opacity="0.8">4</text><text x="485.20" y="359.0" font-size="8.2" text-anchor="middle" fill="#33A055" fill-opacity="0.8">4</text><text x="492.00" y="359.0" font-size="8.2" text-anchor="middle" fill="#2CACAA" fill-opacity="0.8">3</text><text x="498.70" y="359.0" font-size="8.2" text-anchor="middle" fill="#6A82C0" fill-opacity="0.8">8</text><text x="505.50" y="359.0" font-size="8.2" text-anchor="middle" fill="#C265A8" fill-opacity="0.8">6</text></g>
<rect x="308.5" y="347.5" width="210.0" height="117.89999999999998" fill="none" stroke="#000" stroke-width="1.3"/>
<line x1="304.20" y1="362.25" x2="308.50" y2="362.25" stroke="#222" stroke-width="1" />
<text x="301.80" y="365.75" font-size="8.6" text-anchor="end" fill="#1a1a1a" font-weight="normal" >30</text>
<line x1="304.20" y1="384.25" x2="308.50" y2="384.25" stroke="#222" stroke-width="1" />
<text x="301.80" y="387.75" font-size="8.6" text-anchor="end" fill="#1a1a1a" font-weight="normal" >20</text>
<line x1="304.20" y1="406.25" x2="308.50" y2="406.25" stroke="#222" stroke-width="1" />
<text x="301.80" y="409.75" font-size="8.6" text-anchor="end" fill="#1a1a1a" font-weight="normal" >10</text>
<line x1="304.20" y1="428.25" x2="308.50" y2="428.25" stroke="#222" stroke-width="1" />
<text x="301.80" y="431.75" font-size="8.6" text-anchor="end" fill="#1a1a1a" font-weight="normal" >0</text>
<line x1="304.20" y1="450.25" x2="308.50" y2="450.25" stroke="#222" stroke-width="1" />
<text x="301.80" y="453.75" font-size="8.6" text-anchor="end" fill="#1a1a1a" font-weight="normal" >−10</text>
<line x1="338.50" y1="465.40" x2="338.50" y2="469.40" stroke="#222" stroke-width="1" />
<line x1="388.60" y1="465.40" x2="388.60" y2="469.40" stroke="#222" stroke-width="1" />
<line x1="438.60" y1="465.40" x2="438.60" y2="469.40" stroke="#222" stroke-width="1" />
<line x1="488.60" y1="465.40" x2="488.60" y2="469.40" stroke="#222" stroke-width="1" />
<text x="412" y="342.5" font-size="8.8" text-anchor="middle" fill="#1a1a1a">CD8<tspan dy="-3" font-size="6">+</tspan><tspan dy="3">CD69</tspan><tspan dy="-3" font-size="6">+</tspan><tspan dy="3"> T cells (%CD8</tspan><tspan dy="-3" font-size="6">+</tspan><tspan dy="3">)</tspan></text>
<text x="337.00" y="479.00" font-size="8.6" text-anchor="middle" fill="#1a1a1a" font-weight="normal" >C1D1</text>
<text x="337.00" y="490.00" font-size="8.6" text-anchor="middle" fill="#1a1a1a" font-weight="normal" >Predose</text>
<text x="387.10" y="479.00" font-size="8.6" text-anchor="middle" fill="#1a1a1a" font-weight="normal" >C1D2</text>
<text x="437.10" y="479.00" font-size="8.6" text-anchor="middle" fill="#1a1a1a" font-weight="normal" >C1D3</text>
<text x="487.10" y="479.00" font-size="8.6" text-anchor="middle" fill="#1a1a1a" font-weight="normal" >C1D8</text>
<text transform="translate(283.0,407.5) rotate(-90)" font-size="9" text-anchor="middle" fill="#1a1a1a">Difference from baseline</text>
<text x="271.50" y="336.80" font-size="10" text-anchor="start" fill="#000" font-weight="bold" >C</text>
<rect x="40.5" y="531.0" width="104.1" height="107.29999999999995" fill="#fff"/>
<line x1="40.50" y1="549.31" x2="144.60" y2="549.31" stroke="#F3F3F3" stroke-width="0.6" />
<line x1="40.50" y1="573.39" x2="144.60" y2="573.39" stroke="#F3F3F3" stroke-width="0.6" />
<line x1="40.50" y1="597.46" x2="144.60" y2="597.46" stroke="#F3F3F3" stroke-width="0.6" />
<line x1="40.50" y1="621.54" x2="144.60" y2="621.54" stroke="#F3F3F3" stroke-width="0.6" />
<line x1="40.50" y1="537.27" x2="144.60" y2="537.27" stroke="#EBEBEB" stroke-width="0.9" />
<line x1="40.50" y1="561.35" x2="144.60" y2="561.35" stroke="#EBEBEB" stroke-width="0.9" />
<line x1="40.50" y1="585.42" x2="144.60" y2="585.42" stroke="#EBEBEB" stroke-width="0.9" />
<line x1="40.50" y1="609.50" x2="144.60" y2="609.50" stroke="#EBEBEB" stroke-width="0.9" />
<line x1="40.50" y1="633.58" x2="144.60" y2="633.58" stroke="#EBEBEB" stroke-width="0.9" />
<line x1="50.50" y1="531.00" x2="50.50" y2="638.30" stroke="#EBEBEB" stroke-width="0.9" />
<line x1="67.25" y1="531.00" x2="67.25" y2="638.30" stroke="#EBEBEB" stroke-width="0.9" />
<line x1="84.00" y1="531.00" x2="84.00" y2="638.30" stroke="#EBEBEB" stroke-width="0.9" />
<line x1="100.75" y1="531.00" x2="100.75" y2="638.30" stroke="#EBEBEB" stroke-width="0.9" />
<line x1="117.50" y1="531.00" x2="117.50" y2="638.30" stroke="#EBEBEB" stroke-width="0.9" />
<line x1="134.25" y1="531.00" x2="134.25" y2="638.30" stroke="#EBEBEB" stroke-width="0.9" />
<g><circle cx="70.59" cy="571.50" r="1.1" fill="#bbc6e2"/><circle cx="67.49" cy="542.53" r="1.1" fill="#bbc6e2"/><circle cx="69.98" cy="555.37" r="1.1" fill="#bbc6e2"/><circle cx="66.41" cy="562.29" r="1.1" fill="#bbc6e2"/><circle cx="70.06" cy="603.65" r="1.1" fill="#e3b9d7"/><circle cx="69.26" cy="569.71" r="1.1" fill="#e3b9d7"/><circle cx="69.65" cy="581.26" r="1.1" fill="#e3b9d7"/><circle cx="73.42" cy="564.99" r="1.1" fill="#e3b9d7"/><circle cx="84.49" cy="592.47" r="1.1" fill="#a3d4b2"/><circle cx="83.38" cy="633.19" r="1.1" fill="#a3d4b2"/><circle cx="79.41" cy="535.62" r="1.1" fill="#a3d4b2"/><circle cx="81.85" cy="555.99" r="1.1" fill="#a3d4b2"/><circle cx="85.76" cy="534.00" r="1.1" fill="#e3b9d7"/><circle cx="89.79" cy="556.63" r="1.1" fill="#e3b9d7"/><circle cx="86.36" cy="549.83" r="1.1" fill="#e3b9d7"/><circle cx="90.14" cy="588.13" r="1.1" fill="#e3b9d7"/><circle cx="88.48" cy="559.83" r="1.1" fill="#bbc6e2"/><circle cx="87.37" cy="578.66" r="1.1" fill="#bbc6e2"/><circle cx="88.02" cy="540.62" r="1.1" fill="#bbc6e2"/><circle cx="84.73" cy="585.67" r="1.1" fill="#bbc6e2"/><circle cx="81.01" cy="635.61" r="1.1" fill="#ddd2ac"/><circle cx="82.26" cy="613.96" r="1.1" fill="#ddd2ac"/><circle cx="81.15" cy="612.52" r="1.1" fill="#ddd2ac"/><circle cx="77.93" cy="577.30" r="1.1" fill="#ddd2ac"/><circle cx="104.99" cy="573.80" r="1.1" fill="#bbc6e2"/><circle cx="101.41" cy="575.53" r="1.1" fill="#bbc6e2"/><circle cx="103.97" cy="590.59" r="1.1" fill="#bbc6e2"/><circle cx="102.87" cy="594.91" r="1.1" fill="#bbc6e2"/><circle cx="104.57" cy="570.87" r="1.1" fill="#e3b9d7"/><circle cx="105.20" cy="593.85" r="1.1" fill="#e3b9d7"/><circle cx="103.16" cy="551.41" r="1.1" fill="#e3b9d7"/><circle cx="106.70" cy="582.92" r="1.1" fill="#e3b9d7"/><circle cx="98.89" cy="595.89" r="1.1" fill="#a0d9d8"/><circle cx="101.77" cy="618.12" r="1.1" fill="#a0d9d8"/><circle cx="100.05" cy="604.90" r="1.1" fill="#a0d9d8"/><circle cx="101.05" cy="607.85" r="1.1" fill="#a0d9d8"/><circle cx="117.86" cy="569.88" r="1.1" fill="#bbc6e2"/><circle cx="121.92" cy="616.61" r="1.1" fill="#bbc6e2"/><circle cx="116.12" cy="556.94" r="1.1" fill="#bbc6e2"/><circle cx="120.12" cy="581.66" r="1.1" fill="#bbc6e2"/><circle cx="122.39" cy="590.72" r="1.1" fill="#e3b9d7"/><circle cx="121.54" cy="564.45" r="1.1" fill="#e3b9d7"/><circle cx="119.17" cy="591.26" r="1.1" fill="#e3b9d7"/><circle cx="118.90" cy="597.88" r="1.1" fill="#e3b9d7"/><circle cx="75.77" cy="621.94" r="1.1" fill="#f0bec2"/><circle cx="77.72" cy="605.18" r="1.1" fill="#f0bec2"/><circle cx="80.02" cy="606.03" r="1.1" fill="#f0bec2"/><circle cx="74.80" cy="605.89" r="1.1" fill="#f0bec2"/><circle cx="62.31" cy="587.14" r="1.1" fill="#a3d4b2"/><circle cx="66.78" cy="591.74" r="1.1" fill="#a3d4b2"/><circle cx="64.17" cy="595.10" r="1.1" fill="#a3d4b2"/><circle cx="62.26" cy="612.38" r="1.1" fill="#a3d4b2"/><circle cx="65.20" cy="606.46" r="1.1" fill="#a0d9d8"/><circle cx="65.34" cy="608.01" r="1.1" fill="#a0d9d8"/><circle cx="65.52" cy="613.48" r="1.1" fill="#a0d9d8"/><circle cx="66.67" cy="605.15" r="1.1" fill="#a0d9d8"/><circle cx="127.67" cy="606.23" r="1.1" fill="#f0bec2"/><circle cx="127.84" cy="601.66" r="1.1" fill="#f0bec2"/><circle cx="130.55" cy="604.75" r="1.1" fill="#f0bec2"/><circle cx="126.12" cy="596.07" r="1.1" fill="#f0bec2"/><circle cx="133.88" cy="611.97" r="1.1" fill="#bbc6e2"/><circle cx="132.92" cy="611.04" r="1.1" fill="#bbc6e2"/><circle cx="136.16" cy="603.35" r="1.1" fill="#bbc6e2"/><circle cx="138.11" cy="609.86" r="1.1" fill="#bbc6e2"/><circle cx="115.47" cy="611.03" r="1.1" fill="#a3d4b2"/><circle cx="115.34" cy="602.12" r="1.1" fill="#a3d4b2"/><circle cx="114.21" cy="606.81" r="1.1" fill="#a3d4b2"/><circle cx="116.53" cy="601.10" r="1.1" fill="#a3d4b2"/><circle cx="95.38" cy="609.46" r="1.1" fill="#ddd2ac"/><circle cx="96.36" cy="600.91" r="1.1" fill="#ddd2ac"/><circle cx="94.40" cy="602.93" r="1.1" fill="#ddd2ac"/><circle cx="97.47" cy="601.38" r="1.1" fill="#ddd2ac"/><circle cx="137.45" cy="601.09" r="1.1" fill="#e3b9d7"/><circle cx="137.78" cy="607.98" r="1.1" fill="#e3b9d7"/><circle cx="137.60" cy="606.02" r="1.1" fill="#e3b9d7"/><circle cx="136.33" cy="617.33" r="1.1" fill="#e3b9d7"/><circle cx="135.71" cy="602.44" r="1.1" fill="#a0d9d8"/><circle cx="135.26" cy="609.46" r="1.1" fill="#a0d9d8"/><circle cx="128.35" cy="612.77" r="1.1" fill="#ddd2ac"/><circle cx="130.95" cy="608.23" r="1.1" fill="#ddd2ac"/><circle cx="129.58" cy="615.50" r="1.1" fill="#ddd2ac"/><circle cx="130.42" cy="602.47" r="1.1" fill="#ddd2ac"/><circle cx="61.43" cy="559.23" r="1.1" fill="#d4d4e4"/><circle cx="70.30" cy="563.92" r="1.1" fill="#d4d4e4"/><circle cx="66.69" cy="612.86" r="1.1" fill="#d4d4e4"/><circle cx="62.91" cy="572.20" r="1.1" fill="#d4d4e4"/><circle cx="87.21" cy="562.54" r="1.1" fill="#d4d4e4"/><circle cx="82.14" cy="551.01" r="1.1" fill="#d4d4e4"/><circle cx="83.47" cy="609.66" r="1.1" fill="#d4d4e4"/><circle cx="83.46" cy="599.32" r="1.1" fill="#d4d4e4"/><circle cx="97.92" cy="599.01" r="1.1" fill="#d4d4e4"/><circle cx="103.59" cy="583.42" r="1.1" fill="#d4d4e4"/><circle cx="98.62" cy="558.90" r="1.1" fill="#d4d4e4"/><circle cx="102.75" cy="613.89" r="1.1" fill="#d4d4e4"/><circle cx="119.59" cy="602.13" r="1.1" fill="#d4d4e4"/><circle cx="110.90" cy="584.48" r="1.1" fill="#d4d4e4"/><circle cx="113.92" cy="588.06" r="1.1" fill="#d4d4e4"/><circle cx="114.51" cy="602.76" r="1.1" fill="#d4d4e4"/><circle cx="130.17" cy="604.78" r="1.1" fill="#d4d4e4"/><circle cx="130.65" cy="605.55" r="1.1" fill="#d4d4e4"/><circle cx="130.25" cy="612.11" r="1.1" fill="#d4d4e4"/><circle cx="130.98" cy="602.25" r="1.1" fill="#d4d4e4"/><line x1="70.25" y1="598.91" x2="70.25" y2="551.72" stroke="#6A82C0" stroke-width="1.3"/><line x1="72.25" y1="599.87" x2="72.25" y2="566.16" stroke="#C265A8" stroke-width="1.3"/><line x1="83.00" y1="627.80" x2="83.00" y2="542.09" stroke="#33A055" stroke-width="1.3"/><line x1="89.00" y1="586.39" x2="89.00" y2="537.27" stroke="#C265A8" stroke-width="1.3"/><line x1="87.00" y1="580.61" x2="87.00" y2="540.16" stroke="#6A82C0" stroke-width="1.3"/><line x1="81.00" y1="631.65" x2="81.00" y2="580.61" stroke="#B49C48" stroke-width="1.3"/><line x1="103.75" y1="599.87" x2="103.75" y2="558.46" stroke="#6A82C0" stroke-width="1.3"/><line x1="105.75" y1="595.05" x2="105.75" y2="556.53" stroke="#C265A8" stroke-width="1.3"/><line x1="101.75" y1="614.32" x2="101.75" y2="586.39" stroke="#2CACAA" stroke-width="1.3"/><line x1="120.50" y1="614.32" x2="120.50" y2="563.28" stroke="#6A82C0" stroke-width="1.3"/><line x1="122.50" y1="604.68" x2="122.50" y2="570.98" stroke="#C265A8" stroke-width="1.3"/><line x1="79.00" y1="622.02" x2="79.00" y2="605.65" stroke="#DE6F78" stroke-width="1.3"/><line x1="66.25" y1="611.43" x2="66.25" y2="590.24" stroke="#33A055" stroke-width="1.3"/><line x1="68.25" y1="614.32" x2="68.25" y2="603.72" stroke="#2CACAA" stroke-width="1.3"/><line x1="129.25" y1="614.32" x2="129.25" y2="594.09" stroke="#DE6F78" stroke-width="1.3"/><line x1="137.25" y1="616.24" x2="137.25" y2="601.80" stroke="#6A82C0" stroke-width="1.3"/><line x1="116.50" y1="614.32" x2="116.50" y2="603.72" stroke="#33A055" stroke-width="1.3"/><line x1="97.75" y1="615.28" x2="97.75" y2="594.09" stroke="#B49C48" stroke-width="1.3"/><line x1="139.25" y1="615.28" x2="139.25" y2="599.87" stroke="#C265A8" stroke-width="1.3"/><line x1="135.25" y1="614.32" x2="135.25" y2="604.68" stroke="#2CACAA" stroke-width="1.3"/><line x1="131.25" y1="614.32" x2="131.25" y2="603.72" stroke="#B49C48" stroke-width="1.3"/><polyline points="45.50,609.50 62.25,611.91 79.00,614.80 95.75,604.68 112.50,608.06 129.25,603.72" fill="none" stroke="#DE6F78" stroke-width="1.15" stroke-linejoin="round"/><circle cx="45.50" cy="609.50" r="1.5" fill="#DE6F78"/><circle cx="62.25" cy="611.91" r="1.5" fill="#DE6F78"/><circle cx="79.00" cy="614.80" r="1.5" fill="#DE6F78"/><circle cx="95.75" cy="604.68" r="1.5" fill="#DE6F78"/><circle cx="112.50" cy="608.06" r="1.5" fill="#DE6F78"/><circle cx="129.25" cy="603.72" r="1.5" fill="#DE6F78"/><polyline points="47.50,609.50 64.25,605.65 81.00,605.65 97.75,608.06 114.50,608.54 131.25,610.46" fill="none" stroke="#B49C48" stroke-width="1.15" stroke-linejoin="round"/><circle cx="47.50" cy="609.50" r="1.5" fill="#B49C48"/><circle cx="64.25" cy="605.65" r="1.5" fill="#B49C48"/><circle cx="81.00" cy="605.65" r="1.5" fill="#B49C48"/><circle cx="97.75" cy="608.06" r="1.5" fill="#B49C48"/><circle cx="114.50" cy="608.54" r="1.5" fill="#B49C48"/><circle cx="131.25" cy="610.46" r="1.5" fill="#B49C48"/><polyline points="49.50,609.50 66.25,601.80 83.00,572.91 99.75,600.83 116.50,610.94 133.25,610.94" fill="none" stroke="#33A055" stroke-width="1.15" stroke-linejoin="round"/><circle cx="49.50" cy="609.50" r="1.5" fill="#33A055"/><circle cx="66.25" cy="601.80" r="1.5" fill="#33A055"/><circle cx="83.00" cy="572.91" r="1.5" fill="#33A055"/><circle cx="99.75" cy="600.83" r="1.5" fill="#33A055"/><circle cx="116.50" cy="610.94" r="1.5" fill="#33A055"/><circle cx="133.25" cy="610.94" r="1.5" fill="#33A055"/><polyline points="51.50,609.50 68.25,609.02 85.00,600.83 101.75,600.83 118.50,610.94 135.25,610.94" fill="none" stroke="#2CACAA" stroke-width="1.15" stroke-linejoin="round"/><circle cx="51.50" cy="609.50" r="1.5" fill="#2CACAA"/><circle cx="68.25" cy="609.02" r="1.5" fill="#2CACAA"/><circle cx="85.00" cy="600.83" r="1.5" fill="#2CACAA"/><circle cx="101.75" cy="600.83" r="1.5" fill="#2CACAA"/><circle cx="118.50" cy="610.94" r="1.5" fill="#2CACAA"/><circle cx="135.25" cy="610.94" r="1.5" fill="#2CACAA"/><polyline points="53.50,609.50 70.25,576.76 87.00,559.42 103.75,575.79 120.50,591.20 137.25,610.94" fill="none" stroke="#6A82C0" stroke-width="1.15" stroke-linejoin="round"/><circle cx="53.50" cy="609.50" r="1.5" fill="#6A82C0"/><circle cx="70.25" cy="576.76" r="1.5" fill="#6A82C0"/><circle cx="87.00" cy="559.42" r="1.5" fill="#6A82C0"/><circle cx="103.75" cy="575.79" r="1.5" fill="#6A82C0"/><circle cx="120.50" cy="591.20" r="1.5" fill="#6A82C0"/><circle cx="137.25" cy="610.94" r="1.5" fill="#6A82C0"/><polyline points="55.50,609.50 72.25,583.02 89.00,562.31 105.75,575.79 122.50,590.72 139.25,610.94" fill="none" stroke="#C265A8" stroke-width="1.15" stroke-linejoin="round"/><circle cx="55.50" cy="609.50" r="1.5" fill="#C265A8"/><circle cx="72.25" cy="583.02" r="1.5" fill="#C265A8"/><circle cx="89.00" cy="562.31" r="1.5" fill="#C265A8"/><circle cx="105.75" cy="575.79" r="1.5" fill="#C265A8"/><circle cx="122.50" cy="590.72" r="1.5" fill="#C265A8"/><circle cx="139.25" cy="610.94" r="1.5" fill="#C265A8"/></g>
<rect x="40.5" y="531.0" width="104.1" height="107.29999999999995" fill="none" stroke="#000" stroke-width="1.3"/>
<line x1="36.20" y1="537.27" x2="40.50" y2="537.27" stroke="#222" stroke-width="1" />
<text x="34.50" y="540.77" font-size="8.6" text-anchor="end" fill="#1a1a1a" font-weight="normal" >7.5</text>
<line x1="36.20" y1="561.35" x2="40.50" y2="561.35" stroke="#222" stroke-width="1" />
<text x="34.50" y="564.85" font-size="8.6" text-anchor="end" fill="#1a1a1a" font-weight="normal" >5.0</text>
<line x1="36.20" y1="585.42" x2="40.50" y2="585.42" stroke="#222" stroke-width="1" />
<text x="34.50" y="588.92" font-size="8.6" text-anchor="end" fill="#1a1a1a" font-weight="normal" >2.5</text>
<line x1="36.20" y1="609.50" x2="40.50" y2="609.50" stroke="#222" stroke-width="1" />
<text x="34.50" y="613.00" font-size="8.6" text-anchor="end" fill="#1a1a1a" font-weight="normal" >0.0</text>
<line x1="36.20" y1="633.58" x2="40.50" y2="633.58" stroke="#222" stroke-width="1" />
<text x="34.50" y="637.08" font-size="8.6" text-anchor="end" fill="#1a1a1a" font-weight="normal" >−2.5</text>
<line x1="50.50" y1="638.30" x2="50.50" y2="642.30" stroke="#222" stroke-width="1" />
<line x1="67.25" y1="638.30" x2="67.25" y2="642.30" stroke="#222" stroke-width="1" />
<line x1="84.00" y1="638.30" x2="84.00" y2="642.30" stroke="#222" stroke-width="1" />
<line x1="100.75" y1="638.30" x2="100.75" y2="642.30" stroke="#222" stroke-width="1" />
<line x1="117.50" y1="638.30" x2="117.50" y2="642.30" stroke="#222" stroke-width="1" />
<line x1="134.25" y1="638.30" x2="134.25" y2="642.30" stroke="#222" stroke-width="1" />
<text x="40.20" y="526.90" font-size="8.8" text-anchor="start" fill="#1a1a1a" font-weight="normal" >IFNγ</text>
<g transform="translate(46.30,644.20) rotate(-45)"><text x="0" y="6.1" font-size="8.0" text-anchor="end" fill="#1a1a1a">C1D1</text><text x="0" y="13.5" font-size="8.0" text-anchor="end" fill="#1a1a1a">Predose</text></g>
<g transform="translate(63.05,644.20) rotate(-45)"><text x="0" y="6.1" font-size="8.0" text-anchor="end" fill="#1a1a1a">C1D1</text><text x="0" y="13.5" font-size="8.0" text-anchor="end" fill="#1a1a1a">2 h</text></g>
<g transform="translate(79.80,644.20) rotate(-45)"><text x="0" y="6.1" font-size="8.0" text-anchor="end" fill="#1a1a1a">C1D1</text><text x="0" y="13.5" font-size="8.0" text-anchor="end" fill="#1a1a1a">6 h</text></g>
<g transform="translate(100.05,643.30) rotate(-45)"><text x="0" y="6.1" font-size="8.0" text-anchor="end" fill="#1a1a1a">C1D2</text></g>
<g transform="translate(116.80,643.30) rotate(-45)"><text x="0" y="6.1" font-size="8.0" text-anchor="end" fill="#1a1a1a">C1D3</text></g>
<g transform="translate(133.55,643.30) rotate(-45)"><text x="0" y="6.1" font-size="8.0" text-anchor="end" fill="#1a1a1a">C1D8</text></g>
<rect x="161.3" y="531.0" width="103.89999999999998" height="107.29999999999995" fill="#fff"/>
<line x1="161.30" y1="553.60" x2="265.20" y2="553.60" stroke="#F3F3F3" stroke-width="0.6" />
<line x1="161.30" y1="581.80" x2="265.20" y2="581.80" stroke="#F3F3F3" stroke-width="0.6" />
<line x1="161.30" y1="610.00" x2="265.20" y2="610.00" stroke="#F3F3F3" stroke-width="0.6" />
<line x1="161.30" y1="638.20" x2="265.20" y2="638.20" stroke="#F3F3F3" stroke-width="0.6" />
<line x1="161.30" y1="539.50" x2="265.20" y2="539.50" stroke="#EBEBEB" stroke-width="0.9" />
<line x1="161.30" y1="567.70" x2="265.20" y2="567.70" stroke="#EBEBEB" stroke-width="0.9" />
<line x1="161.30" y1="595.90" x2="265.20" y2="595.90" stroke="#EBEBEB" stroke-width="0.9" />
<line x1="161.30" y1="624.10" x2="265.20" y2="624.10" stroke="#EBEBEB" stroke-width="0.9" />
<line x1="171.30" y1="531.00" x2="171.30" y2="638.30" stroke="#EBEBEB" stroke-width="0.9" />
<line x1="188.00" y1="531.00" x2="188.00" y2="638.30" stroke="#EBEBEB" stroke-width="0.9" />
<line x1="204.70" y1="531.00" x2="204.70" y2="638.30" stroke="#EBEBEB" stroke-width="0.9" />
<line x1="221.40" y1="531.00" x2="221.40" y2="638.30" stroke="#EBEBEB" stroke-width="0.9" />
<line x1="238.10" y1="531.00" x2="238.10" y2="638.30" stroke="#EBEBEB" stroke-width="0.9" />
<line x1="254.80" y1="531.00" x2="254.80" y2="638.30" stroke="#EBEBEB" stroke-width="0.9" />
<g><circle cx="189.29" cy="561.41" r="1.1" fill="#e3b9d7"/><circle cx="190.31" cy="549.15" r="1.1" fill="#e3b9d7"/><circle cx="189.66" cy="534.00" r="1.1" fill="#e3b9d7"/><circle cx="189.49" cy="545.37" r="1.1" fill="#e3b9d7"/><circle cx="210.44" cy="534.00" r="1.1" fill="#e3b9d7"/><circle cx="209.10" cy="600.10" r="1.1" fill="#e3b9d7"/><circle cx="208.27" cy="590.06" r="1.1" fill="#e3b9d7"/><circle cx="206.13" cy="534.00" r="1.1" fill="#e3b9d7"/><circle cx="186.94" cy="587.33" r="1.1" fill="#bbc6e2"/><circle cx="189.49" cy="593.39" r="1.1" fill="#bbc6e2"/><circle cx="187.27" cy="589.46" r="1.1" fill="#bbc6e2"/><circle cx="188.25" cy="568.34" r="1.1" fill="#bbc6e2"/><circle cx="205.23" cy="587.31" r="1.1" fill="#bbc6e2"/><circle cx="204.83" cy="559.53" r="1.1" fill="#bbc6e2"/><circle cx="208.81" cy="570.23" r="1.1" fill="#bbc6e2"/><circle cx="204.90" cy="574.48" r="1.1" fill="#bbc6e2"/><circle cx="186.42" cy="631.40" r="1.1" fill="#a3d4b2"/><circle cx="184.91" cy="628.29" r="1.1" fill="#a3d4b2"/><circle cx="187.20" cy="575.27" r="1.1" fill="#a3d4b2"/><circle cx="184.70" cy="619.87" r="1.1" fill="#a3d4b2"/><circle cx="200.95" cy="619.69" r="1.1" fill="#a3d4b2"/><circle cx="199.90" cy="608.19" r="1.1" fill="#a3d4b2"/><circle cx="200.08" cy="629.30" r="1.1" fill="#a3d4b2"/><circle cx="202.41" cy="617.42" r="1.1" fill="#a3d4b2"/><circle cx="203.78" cy="621.21" r="1.1" fill="#a0d9d8"/><circle cx="205.89" cy="605.96" r="1.1" fill="#a0d9d8"/><circle cx="206.52" cy="617.75" r="1.1" fill="#a0d9d8"/><circle cx="204.69" cy="631.90" r="1.1" fill="#a0d9d8"/><circle cx="185.87" cy="566.85" r="1.1" fill="#d4d4e4"/><circle cx="184.11" cy="590.91" r="1.1" fill="#d4d4e4"/><circle cx="183.31" cy="559.09" r="1.1" fill="#d4d4e4"/><circle cx="189.59" cy="578.08" r="1.1" fill="#d4d4e4"/><circle cx="208.84" cy="550.75" r="1.1" fill="#d4d4e4"/><circle cx="199.56" cy="615.19" r="1.1" fill="#d4d4e4"/><circle cx="207.62" cy="604.27" r="1.1" fill="#d4d4e4"/><circle cx="206.50" cy="574.80" r="1.1" fill="#d4d4e4"/><circle cx="220.73" cy="625.02" r="1.1" fill="#d4d4e4"/><circle cx="219.10" cy="617.34" r="1.1" fill="#d4d4e4"/><circle cx="222.27" cy="625.09" r="1.1" fill="#d4d4e4"/><circle cx="225.24" cy="618.97" r="1.1" fill="#d4d4e4"/><circle cx="231.60" cy="623.68" r="1.1" fill="#d4d4e4"/><circle cx="231.43" cy="629.82" r="1.1" fill="#d4d4e4"/><circle cx="238.81" cy="631.11" r="1.1" fill="#d4d4e4"/><circle cx="232.19" cy="625.96" r="1.1" fill="#d4d4e4"/><circle cx="255.01" cy="619.76" r="1.1" fill="#d4d4e4"/><circle cx="257.89" cy="623.96" r="1.1" fill="#d4d4e4"/><circle cx="253.21" cy="629.79" r="1.1" fill="#d4d4e4"/><circle cx="253.59" cy="622.91" r="1.1" fill="#d4d4e4"/><line x1="193.00" y1="594.49" x2="193.00" y2="540.91" stroke="#C265A8" stroke-width="1.3"/><line x1="209.70" y1="600.13" x2="209.70" y2="535.27" stroke="#C265A8" stroke-width="1.3"/><line x1="191.00" y1="591.67" x2="191.00" y2="563.47" stroke="#6A82C0" stroke-width="1.3"/><line x1="207.70" y1="600.13" x2="207.70" y2="560.65" stroke="#6A82C0" stroke-width="1.3"/><line x1="187.00" y1="633.97" x2="187.00" y2="574.75" stroke="#33A055" stroke-width="1.3"/><line x1="203.70" y1="629.74" x2="203.70" y2="590.26" stroke="#33A055" stroke-width="1.3"/><line x1="205.70" y1="628.33" x2="205.70" y2="604.36" stroke="#2CACAA" stroke-width="1.3"/><polyline points="166.30,624.10 183.00,624.10 199.70,624.10 216.40,624.10 233.10,624.10 249.80,624.10" fill="none" stroke="#DE6F78" stroke-width="1.15" stroke-linejoin="round"/><circle cx="166.30" cy="624.10" r="1.5" fill="#DE6F78"/><circle cx="183.00" cy="624.10" r="1.5" fill="#DE6F78"/><circle cx="199.70" cy="624.10" r="1.5" fill="#DE6F78"/><circle cx="216.40" cy="624.10" r="1.5" fill="#DE6F78"/><circle cx="233.10" cy="624.10" r="1.5" fill="#DE6F78"/><circle cx="249.80" cy="624.10" r="1.5" fill="#DE6F78"/><polyline points="168.30,624.10 185.00,624.10 201.70,624.10 218.40,624.10 235.10,624.10 251.80,624.10" fill="none" stroke="#B49C48" stroke-width="1.15" stroke-linejoin="round"/><circle cx="168.30" cy="624.10" r="1.5" fill="#B49C48"/><circle cx="185.00" cy="624.10" r="1.5" fill="#B49C48"/><circle cx="201.70" cy="624.10" r="1.5" fill="#B49C48"/><circle cx="218.40" cy="624.10" r="1.5" fill="#B49C48"/><circle cx="235.10" cy="624.10" r="1.5" fill="#B49C48"/><circle cx="251.80" cy="624.10" r="1.5" fill="#B49C48"/><polyline points="170.30,624.10 187.00,603.80 203.70,611.41 220.40,624.10 237.10,624.10 253.80,624.10" fill="none" stroke="#33A055" stroke-width="1.15" stroke-linejoin="round"/><circle cx="170.30" cy="624.10" r="1.5" fill="#33A055"/><circle cx="187.00" cy="603.80" r="1.5" fill="#33A055"/><circle cx="203.70" cy="611.41" r="1.5" fill="#33A055"/><circle cx="220.40" cy="624.10" r="1.5" fill="#33A055"/><circle cx="237.10" cy="624.10" r="1.5" fill="#33A055"/><circle cx="253.80" cy="624.10" r="1.5" fill="#33A055"/><polyline points="172.30,624.10 189.00,624.10 205.70,617.05 222.40,624.10 239.10,624.10 255.80,624.10" fill="none" stroke="#2CACAA" stroke-width="1.15" stroke-linejoin="round"/><circle cx="172.30" cy="624.10" r="1.5" fill="#2CACAA"/><circle cx="189.00" cy="624.10" r="1.5" fill="#2CACAA"/><circle cx="205.70" cy="617.05" r="1.5" fill="#2CACAA"/><circle cx="222.40" cy="624.10" r="1.5" fill="#2CACAA"/><circle cx="239.10" cy="624.10" r="1.5" fill="#2CACAA"/><circle cx="255.80" cy="624.10" r="1.5" fill="#2CACAA"/><polyline points="174.30,624.10 191.00,576.87 207.70,582.50 224.40,624.10 241.10,624.10 257.80,624.10" fill="none" stroke="#6A82C0" stroke-width="1.15" stroke-linejoin="round"/><circle cx="174.30" cy="624.10" r="1.5" fill="#6A82C0"/><circle cx="191.00" cy="576.87" r="1.5" fill="#6A82C0"/><circle cx="207.70" cy="582.50" r="1.5" fill="#6A82C0"/><circle cx="224.40" cy="624.10" r="1.5" fill="#6A82C0"/><circle cx="241.10" cy="624.10" r="1.5" fill="#6A82C0"/><circle cx="257.80" cy="624.10" r="1.5" fill="#6A82C0"/><polyline points="176.30,624.10 193.00,567.00 209.70,564.88 226.40,624.10 243.10,624.10 259.80,624.10" fill="none" stroke="#C265A8" stroke-width="1.15" stroke-linejoin="round"/><circle cx="176.30" cy="624.10" r="1.5" fill="#C265A8"/><circle cx="193.00" cy="567.00" r="1.5" fill="#C265A8"/><circle cx="209.70" cy="564.88" r="1.5" fill="#C265A8"/><circle cx="226.40" cy="624.10" r="1.5" fill="#C265A8"/><circle cx="243.10" cy="624.10" r="1.5" fill="#C265A8"/><circle cx="259.80" cy="624.10" r="1.5" fill="#C265A8"/></g>
<rect x="161.3" y="531.0" width="103.89999999999998" height="107.29999999999995" fill="none" stroke="#000" stroke-width="1.3"/>
<line x1="157.00" y1="539.50" x2="161.30" y2="539.50" stroke="#222" stroke-width="1" />
<text x="156.00" y="543.00" font-size="8.6" text-anchor="end" fill="#1a1a1a" font-weight="normal" >6</text>
<line x1="157.00" y1="567.70" x2="161.30" y2="567.70" stroke="#222" stroke-width="1" />
<text x="156.00" y="571.20" font-size="8.6" text-anchor="end" fill="#1a1a1a" font-weight="normal" >4</text>
<line x1="157.00" y1="595.90" x2="161.30" y2="595.90" stroke="#222" stroke-width="1" />
<text x="156.00" y="599.40" font-size="8.6" text-anchor="end" fill="#1a1a1a" font-weight="normal" >2</text>
<line x1="157.00" y1="624.10" x2="161.30" y2="624.10" stroke="#222" stroke-width="1" />
<text x="156.00" y="627.60" font-size="8.6" text-anchor="end" fill="#1a1a1a" font-weight="normal" >0</text>
<line x1="171.30" y1="638.30" x2="171.30" y2="642.30" stroke="#222" stroke-width="1" />
<line x1="188.00" y1="638.30" x2="188.00" y2="642.30" stroke="#222" stroke-width="1" />
<line x1="204.70" y1="638.30" x2="204.70" y2="642.30" stroke="#222" stroke-width="1" />
<line x1="221.40" y1="638.30" x2="221.40" y2="642.30" stroke="#222" stroke-width="1" />
<line x1="238.10" y1="638.30" x2="238.10" y2="642.30" stroke="#222" stroke-width="1" />
<line x1="254.80" y1="638.30" x2="254.80" y2="642.30" stroke="#222" stroke-width="1" />
<text x="161.00" y="526.90" font-size="8.8" text-anchor="start" fill="#1a1a1a" font-weight="normal" >IL2</text>
<g transform="translate(167.10,644.20) rotate(-45)"><text x="0" y="6.1" font-size="8.0" text-anchor="end" fill="#1a1a1a">C1D1</text><text x="0" y="13.5" font-size="8.0" text-anchor="end" fill="#1a1a1a">Predose</text></g>
<g transform="translate(183.80,644.20) rotate(-45)"><text x="0" y="6.1" font-size="8.0" text-anchor="end" fill="#1a1a1a">C1D1</text><text x="0" y="13.5" font-size="8.0" text-anchor="end" fill="#1a1a1a">2 h</text></g>
<g transform="translate(200.50,644.20) rotate(-45)"><text x="0" y="6.1" font-size="8.0" text-anchor="end" fill="#1a1a1a">C1D1</text><text x="0" y="13.5" font-size="8.0" text-anchor="end" fill="#1a1a1a">6 h</text></g>
<g transform="translate(220.70,643.30) rotate(-45)"><text x="0" y="6.1" font-size="8.0" text-anchor="end" fill="#1a1a1a">C1D2</text></g>
<g transform="translate(237.40,643.30) rotate(-45)"><text x="0" y="6.1" font-size="8.0" text-anchor="end" fill="#1a1a1a">C1D3</text></g>
<g transform="translate(254.10,643.30) rotate(-45)"><text x="0" y="6.1" font-size="8.0" text-anchor="end" fill="#1a1a1a">C1D8</text></g>
<rect x="282.8" y="531.0" width="104.30000000000001" height="107.29999999999995" fill="#fff"/>
<line x1="282.80" y1="543.35" x2="387.10" y2="543.35" stroke="#F3F3F3" stroke-width="0.6" />
<line x1="282.80" y1="570.89" x2="387.10" y2="570.89" stroke="#F3F3F3" stroke-width="0.6" />
<line x1="282.80" y1="598.43" x2="387.10" y2="598.43" stroke="#F3F3F3" stroke-width="0.6" />
<line x1="282.80" y1="625.97" x2="387.10" y2="625.97" stroke="#F3F3F3" stroke-width="0.6" />
<line x1="282.80" y1="557.12" x2="387.10" y2="557.12" stroke="#EBEBEB" stroke-width="0.9" />
<line x1="282.80" y1="584.66" x2="387.10" y2="584.66" stroke="#EBEBEB" stroke-width="0.9" />
<line x1="282.80" y1="612.20" x2="387.10" y2="612.20" stroke="#EBEBEB" stroke-width="0.9" />
<line x1="293.10" y1="531.00" x2="293.10" y2="638.30" stroke="#EBEBEB" stroke-width="0.9" />
<line x1="309.90" y1="531.00" x2="309.90" y2="638.30" stroke="#EBEBEB" stroke-width="0.9" />
<line x1="326.70" y1="531.00" x2="326.70" y2="638.30" stroke="#EBEBEB" stroke-width="0.9" />
<line x1="343.50" y1="531.00" x2="343.50" y2="638.30" stroke="#EBEBEB" stroke-width="0.9" />
<line x1="360.30" y1="531.00" x2="360.30" y2="638.30" stroke="#EBEBEB" stroke-width="0.9" />
<line x1="377.10" y1="531.00" x2="377.10" y2="638.30" stroke="#EBEBEB" stroke-width="0.9" />
<g><circle cx="344.10" cy="608.96" r="1.1" fill="#bbc6e2"/><circle cx="343.48" cy="607.47" r="1.1" fill="#bbc6e2"/><circle cx="342.93" cy="562.56" r="1.1" fill="#bbc6e2"/><circle cx="343.20" cy="591.52" r="1.1" fill="#bbc6e2"/><circle cx="330.15" cy="568.99" r="1.1" fill="#e3b9d7"/><circle cx="329.66" cy="597.21" r="1.1" fill="#e3b9d7"/><circle cx="329.41" cy="575.20" r="1.1" fill="#e3b9d7"/><circle cx="329.49" cy="575.64" r="1.1" fill="#e3b9d7"/><circle cx="349.42" cy="597.34" r="1.1" fill="#e3b9d7"/><circle cx="349.47" cy="609.43" r="1.1" fill="#e3b9d7"/><circle cx="348.44" cy="593.36" r="1.1" fill="#e3b9d7"/><circle cx="344.47" cy="586.52" r="1.1" fill="#e3b9d7"/><circle cx="325.79" cy="602.48" r="1.1" fill="#bbc6e2"/><circle cx="326.31" cy="600.98" r="1.1" fill="#bbc6e2"/><circle cx="326.51" cy="596.54" r="1.1" fill="#bbc6e2"/><circle cx="328.00" cy="584.46" r="1.1" fill="#bbc6e2"/><circle cx="310.60" cy="614.58" r="1.1" fill="#e3b9d7"/><circle cx="313.71" cy="599.00" r="1.1" fill="#e3b9d7"/><circle cx="311.28" cy="590.48" r="1.1" fill="#e3b9d7"/><circle cx="316.02" cy="613.55" r="1.1" fill="#e3b9d7"/><circle cx="313.96" cy="608.78" r="1.1" fill="#bbc6e2"/><circle cx="311.58" cy="581.73" r="1.1" fill="#bbc6e2"/><circle cx="309.35" cy="592.13" r="1.1" fill="#bbc6e2"/><circle cx="312.11" cy="587.75" r="1.1" fill="#bbc6e2"/><circle cx="375.73" cy="614.85" r="1.1" fill="#bbc6e2"/><circle cx="378.89" cy="607.27" r="1.1" fill="#bbc6e2"/><circle cx="381.12" cy="621.83" r="1.1" fill="#bbc6e2"/><circle cx="380.11" cy="594.39" r="1.1" fill="#bbc6e2"/><circle cx="308.29" cy="628.41" r="1.1" fill="#ddd2ac"/><circle cx="306.70" cy="630.68" r="1.1" fill="#ddd2ac"/><circle cx="304.81" cy="616.16" r="1.1" fill="#ddd2ac"/><circle cx="303.78" cy="621.91" r="1.1" fill="#ddd2ac"/><circle cx="335.49" cy="613.69" r="1.1" fill="#f0bec2"/><circle cx="337.37" cy="607.95" r="1.1" fill="#f0bec2"/><circle cx="338.34" cy="607.82" r="1.1" fill="#f0bec2"/><circle cx="337.23" cy="612.06" r="1.1" fill="#f0bec2"/><circle cx="358.96" cy="613.84" r="1.1" fill="#a0d9d8"/><circle cx="359.74" cy="599.12" r="1.1" fill="#a0d9d8"/><circle cx="357.84" cy="586.13" r="1.1" fill="#a0d9d8"/><circle cx="359.62" cy="598.72" r="1.1" fill="#a0d9d8"/><circle cx="357.74" cy="614.60" r="1.1" fill="#ddd2ac"/><circle cx="354.38" cy="612.49" r="1.1" fill="#ddd2ac"/><circle cx="354.25" cy="601.36" r="1.1" fill="#ddd2ac"/><circle cx="354.33" cy="596.86" r="1.1" fill="#ddd2ac"/><circle cx="361.45" cy="598.37" r="1.1" fill="#e3b9d7"/><circle cx="363.78" cy="590.64" r="1.1" fill="#e3b9d7"/><circle cx="366.76" cy="586.49" r="1.1" fill="#e3b9d7"/><circle cx="363.15" cy="603.41" r="1.1" fill="#e3b9d7"/><circle cx="379.46" cy="598.64" r="1.1" fill="#e3b9d7"/><circle cx="379.73" cy="595.26" r="1.1" fill="#e3b9d7"/><circle cx="380.83" cy="604.61" r="1.1" fill="#e3b9d7"/><circle cx="380.63" cy="596.80" r="1.1" fill="#e3b9d7"/><circle cx="321.91" cy="621.02" r="1.1" fill="#f0bec2"/><circle cx="319.18" cy="604.52" r="1.1" fill="#f0bec2"/><circle cx="318.11" cy="621.64" r="1.1" fill="#f0bec2"/><circle cx="322.39" cy="609.52" r="1.1" fill="#f0bec2"/><circle cx="345.61" cy="606.83" r="1.1" fill="#a0d9d8"/><circle cx="343.62" cy="609.78" r="1.1" fill="#a0d9d8"/><circle cx="343.12" cy="602.26" r="1.1" fill="#a0d9d8"/><circle cx="340.83" cy="606.68" r="1.1" fill="#a0d9d8"/><circle cx="324.96" cy="610.67" r="1.1" fill="#a3d4b2"/><circle cx="325.70" cy="608.58" r="1.1" fill="#a3d4b2"/><circle cx="304.72" cy="620.14" r="1.1" fill="#f0bec2"/><circle cx="304.69" cy="614.03" r="1.1" fill="#f0bec2"/><circle cx="306.35" cy="611.27" r="1.1" fill="#f0bec2"/><circle cx="302.25" cy="615.15" r="1.1" fill="#f0bec2"/><circle cx="314.33" cy="614.66" r="1.1" fill="#d4d4e4"/><circle cx="307.32" cy="606.66" r="1.1" fill="#d4d4e4"/><circle cx="306.33" cy="596.47" r="1.1" fill="#d4d4e4"/><circle cx="308.49" cy="593.82" r="1.1" fill="#d4d4e4"/><circle cx="323.41" cy="587.72" r="1.1" fill="#d4d4e4"/><circle cx="320.43" cy="608.80" r="1.1" fill="#d4d4e4"/><circle cx="323.73" cy="600.92" r="1.1" fill="#d4d4e4"/><circle cx="328.62" cy="613.74" r="1.1" fill="#d4d4e4"/><circle cx="341.98" cy="603.59" r="1.1" fill="#d4d4e4"/><circle cx="342.57" cy="598.33" r="1.1" fill="#d4d4e4"/><circle cx="346.43" cy="569.31" r="1.1" fill="#d4d4e4"/><circle cx="340.83" cy="589.07" r="1.1" fill="#d4d4e4"/><circle cx="363.74" cy="588.82" r="1.1" fill="#d4d4e4"/><circle cx="360.47" cy="583.77" r="1.1" fill="#d4d4e4"/><circle cx="355.45" cy="605.07" r="1.1" fill="#d4d4e4"/><circle cx="355.76" cy="597.76" r="1.1" fill="#d4d4e4"/><circle cx="373.04" cy="592.87" r="1.1" fill="#d4d4e4"/><circle cx="370.80" cy="613.54" r="1.1" fill="#d4d4e4"/><circle cx="381.21" cy="615.33" r="1.1" fill="#d4d4e4"/><circle cx="370.52" cy="594.85" r="1.1" fill="#d4d4e4"/><line x1="346.50" y1="612.20" x2="346.50" y2="551.61" stroke="#6A82C0" stroke-width="1.3"/><line x1="331.70" y1="605.77" x2="331.70" y2="575.48" stroke="#C265A8" stroke-width="1.3"/><line x1="348.50" y1="605.77" x2="348.50" y2="566.30" stroke="#C265A8" stroke-width="1.3"/><line x1="329.70" y1="601.18" x2="329.70" y2="580.99" stroke="#6A82C0" stroke-width="1.3"/><line x1="314.90" y1="616.79" x2="314.90" y2="593.84" stroke="#C265A8" stroke-width="1.3"/><line x1="312.90" y1="614.95" x2="312.90" y2="588.33" stroke="#6A82C0" stroke-width="1.3"/><line x1="380.10" y1="633.31" x2="380.10" y2="601.18" stroke="#6A82C0" stroke-width="1.3"/><line x1="306.90" y1="628.72" x2="306.90" y2="614.04" stroke="#B49C48" stroke-width="1.3"/><line x1="338.50" y1="617.71" x2="338.50" y2="606.69" stroke="#DE6F78" stroke-width="1.3"/><line x1="361.30" y1="612.20" x2="361.30" y2="591.09" stroke="#2CACAA" stroke-width="1.3"/><line x1="357.30" y1="616.79" x2="357.30" y2="599.35" stroke="#B49C48" stroke-width="1.3"/><line x1="365.30" y1="601.18" x2="365.30" y2="585.58" stroke="#C265A8" stroke-width="1.3"/><line x1="382.10" y1="609.45" x2="382.10" y2="596.59" stroke="#C265A8" stroke-width="1.3"/><line x1="321.70" y1="625.97" x2="321.70" y2="606.69" stroke="#DE6F78" stroke-width="1.3"/><line x1="344.50" y1="614.95" x2="344.50" y2="601.18" stroke="#2CACAA" stroke-width="1.3"/><line x1="325.70" y1="614.95" x2="325.70" y2="606.69" stroke="#33A055" stroke-width="1.3"/><line x1="304.90" y1="619.54" x2="304.90" y2="608.53" stroke="#DE6F78" stroke-width="1.3"/><polyline points="288.10,612.20 304.90,615.41 321.70,619.54 338.50,612.20 355.30,612.20 372.10,612.20" fill="none" stroke="#DE6F78" stroke-width="1.15" stroke-linejoin="round"/><circle cx="288.10" cy="612.20" r="1.5" fill="#DE6F78"/><circle cx="304.90" cy="615.41" r="1.5" fill="#DE6F78"/><circle cx="321.70" cy="619.54" r="1.5" fill="#DE6F78"/><circle cx="338.50" cy="612.20" r="1.5" fill="#DE6F78"/><circle cx="355.30" cy="612.20" r="1.5" fill="#DE6F78"/><circle cx="372.10" cy="612.20" r="1.5" fill="#DE6F78"/><polyline points="290.10,612.20 306.90,623.68 323.70,627.81 340.50,618.63 357.30,612.20 374.10,603.02" fill="none" stroke="#B49C48" stroke-width="1.15" stroke-linejoin="round"/><circle cx="290.10" cy="612.20" r="1.5" fill="#B49C48"/><circle cx="306.90" cy="623.68" r="1.5" fill="#B49C48"/><circle cx="323.70" cy="627.81" r="1.5" fill="#B49C48"/><circle cx="340.50" cy="618.63" r="1.5" fill="#B49C48"/><circle cx="357.30" cy="612.20" r="1.5" fill="#B49C48"/><circle cx="374.10" cy="603.02" r="1.5" fill="#B49C48"/><polyline points="292.10,612.20 308.90,612.20 325.70,611.28 342.50,611.28 359.30,611.28 376.10,611.28" fill="none" stroke="#33A055" stroke-width="1.15" stroke-linejoin="round"/><circle cx="292.10" cy="612.20" r="1.5" fill="#33A055"/><circle cx="308.90" cy="612.20" r="1.5" fill="#33A055"/><circle cx="325.70" cy="611.28" r="1.5" fill="#33A055"/><circle cx="342.50" cy="611.28" r="1.5" fill="#33A055"/><circle cx="359.30" cy="611.28" r="1.5" fill="#33A055"/><circle cx="376.10" cy="611.28" r="1.5" fill="#33A055"/><polyline points="294.10,612.20 310.90,612.20 327.70,612.20 344.50,603.94 361.30,603.94 378.10,612.20" fill="none" stroke="#2CACAA" stroke-width="1.15" stroke-linejoin="round"/><circle cx="294.10" cy="612.20" r="1.5" fill="#2CACAA"/><circle cx="310.90" cy="612.20" r="1.5" fill="#2CACAA"/><circle cx="327.70" cy="612.20" r="1.5" fill="#2CACAA"/><circle cx="344.50" cy="603.94" r="1.5" fill="#2CACAA"/><circle cx="361.30" cy="603.94" r="1.5" fill="#2CACAA"/><circle cx="378.10" cy="612.20" r="1.5" fill="#2CACAA"/><polyline points="296.10,612.20 312.90,602.10 329.70,591.55 346.50,576.86 363.30,580.99 380.10,612.20" fill="none" stroke="#6A82C0" stroke-width="1.15" stroke-linejoin="round"/><circle cx="296.10" cy="612.20" r="1.5" fill="#6A82C0"/><circle cx="312.90" cy="602.10" r="1.5" fill="#6A82C0"/><circle cx="329.70" cy="591.55" r="1.5" fill="#6A82C0"/><circle cx="346.50" cy="576.86" r="1.5" fill="#6A82C0"/><circle cx="363.30" cy="580.99" r="1.5" fill="#6A82C0"/><circle cx="380.10" cy="612.20" r="1.5" fill="#6A82C0"/><polyline points="298.10,612.20 314.90,607.15 331.70,590.17 348.50,590.17 365.30,591.09 382.10,600.73" fill="none" stroke="#C265A8" stroke-width="1.15" stroke-linejoin="round"/><circle cx="298.10" cy="612.20" r="1.5" fill="#C265A8"/><circle cx="314.90" cy="607.15" r="1.5" fill="#C265A8"/><circle cx="331.70" cy="590.17" r="1.5" fill="#C265A8"/><circle cx="348.50" cy="590.17" r="1.5" fill="#C265A8"/><circle cx="365.30" cy="591.09" r="1.5" fill="#C265A8"/><circle cx="382.10" cy="600.73" r="1.5" fill="#C265A8"/></g>
<rect x="282.8" y="531.0" width="104.30000000000001" height="107.29999999999995" fill="none" stroke="#000" stroke-width="1.3"/>
<line x1="278.50" y1="557.12" x2="282.80" y2="557.12" stroke="#222" stroke-width="1" />
<text x="277.50" y="560.62" font-size="8.6" text-anchor="end" fill="#1a1a1a" font-weight="normal" >6</text>
<line x1="278.50" y1="584.66" x2="282.80" y2="584.66" stroke="#222" stroke-width="1" />
<text x="277.50" y="588.16" font-size="8.6" text-anchor="end" fill="#1a1a1a" font-weight="normal" >3</text>
<line x1="278.50" y1="612.20" x2="282.80" y2="612.20" stroke="#222" stroke-width="1" />
<text x="277.50" y="615.70" font-size="8.6" text-anchor="end" fill="#1a1a1a" font-weight="normal" >0</text>
<line x1="293.10" y1="638.30" x2="293.10" y2="642.30" stroke="#222" stroke-width="1" />
<line x1="309.90" y1="638.30" x2="309.90" y2="642.30" stroke="#222" stroke-width="1" />
<line x1="326.70" y1="638.30" x2="326.70" y2="642.30" stroke="#222" stroke-width="1" />
<line x1="343.50" y1="638.30" x2="343.50" y2="642.30" stroke="#222" stroke-width="1" />
<line x1="360.30" y1="638.30" x2="360.30" y2="642.30" stroke="#222" stroke-width="1" />
<line x1="377.10" y1="638.30" x2="377.10" y2="642.30" stroke="#222" stroke-width="1" />
<text x="282.50" y="526.90" font-size="8.8" text-anchor="start" fill="#1a1a1a" font-weight="normal" >IL6</text>
<g transform="translate(288.90,644.20) rotate(-45)"><text x="0" y="6.1" font-size="8.0" text-anchor="end" fill="#1a1a1a">C1D1</text><text x="0" y="13.5" font-size="8.0" text-anchor="end" fill="#1a1a1a">Predose</text></g>
<g transform="translate(305.70,644.20) rotate(-45)"><text x="0" y="6.1" font-size="8.0" text-anchor="end" fill="#1a1a1a">C1D1</text><text x="0" y="13.5" font-size="8.0" text-anchor="end" fill="#1a1a1a">2 h</text></g>
<g transform="translate(322.50,644.20) rotate(-45)"><text x="0" y="6.1" font-size="8.0" text-anchor="end" fill="#1a1a1a">C1D1</text><text x="0" y="13.5" font-size="8.0" text-anchor="end" fill="#1a1a1a">6 h</text></g>
<g transform="translate(342.80,643.30) rotate(-45)"><text x="0" y="6.1" font-size="8.0" text-anchor="end" fill="#1a1a1a">C1D2</text></g>
<g transform="translate(359.60,643.30) rotate(-45)"><text x="0" y="6.1" font-size="8.0" text-anchor="end" fill="#1a1a1a">C1D3</text></g>
<g transform="translate(376.40,643.30) rotate(-45)"><text x="0" y="6.1" font-size="8.0" text-anchor="end" fill="#1a1a1a">C1D8</text></g>
<rect x="408.1" y="531.0" width="104.29999999999995" height="107.29999999999995" fill="#fff"/>
<line x1="408.10" y1="541.65" x2="512.40" y2="541.65" stroke="#F3F3F3" stroke-width="0.6" />
<line x1="408.10" y1="561.35" x2="512.40" y2="561.35" stroke="#F3F3F3" stroke-width="0.6" />
<line x1="408.10" y1="581.05" x2="512.40" y2="581.05" stroke="#F3F3F3" stroke-width="0.6" />
<line x1="408.10" y1="600.75" x2="512.40" y2="600.75" stroke="#F3F3F3" stroke-width="0.6" />
<line x1="408.10" y1="620.45" x2="512.40" y2="620.45" stroke="#F3F3F3" stroke-width="0.6" />
<line x1="408.10" y1="531.80" x2="512.40" y2="531.80" stroke="#EBEBEB" stroke-width="0.9" />
<line x1="408.10" y1="551.50" x2="512.40" y2="551.50" stroke="#EBEBEB" stroke-width="0.9" />
<line x1="408.10" y1="571.20" x2="512.40" y2="571.20" stroke="#EBEBEB" stroke-width="0.9" />
<line x1="408.10" y1="590.90" x2="512.40" y2="590.90" stroke="#EBEBEB" stroke-width="0.9" />
<line x1="408.10" y1="610.60" x2="512.40" y2="610.60" stroke="#EBEBEB" stroke-width="0.9" />
<line x1="408.10" y1="630.30" x2="512.40" y2="630.30" stroke="#EBEBEB" stroke-width="0.9" />
<line x1="418.20" y1="531.00" x2="418.20" y2="638.30" stroke="#EBEBEB" stroke-width="0.9" />
<line x1="435.05" y1="531.00" x2="435.05" y2="638.30" stroke="#EBEBEB" stroke-width="0.9" />
<line x1="451.90" y1="531.00" x2="451.90" y2="638.30" stroke="#EBEBEB" stroke-width="0.9" />
<line x1="468.75" y1="531.00" x2="468.75" y2="638.30" stroke="#EBEBEB" stroke-width="0.9" />
<line x1="485.60" y1="531.00" x2="485.60" y2="638.30" stroke="#EBEBEB" stroke-width="0.9" />
<line x1="502.45" y1="531.00" x2="502.45" y2="638.30" stroke="#EBEBEB" stroke-width="0.9" />
<g><circle cx="435.88" cy="543.51" r="1.1" fill="#bbc6e2"/><circle cx="435.04" cy="553.45" r="1.1" fill="#bbc6e2"/><circle cx="435.19" cy="583.42" r="1.1" fill="#bbc6e2"/><circle cx="434.00" cy="578.13" r="1.1" fill="#bbc6e2"/><circle cx="437.45" cy="587.81" r="1.1" fill="#e3b9d7"/><circle cx="440.44" cy="617.93" r="1.1" fill="#e3b9d7"/><circle cx="436.45" cy="548.16" r="1.1" fill="#e3b9d7"/><circle cx="438.72" cy="570.57" r="1.1" fill="#e3b9d7"/><circle cx="453.94" cy="578.83" r="1.1" fill="#bbc6e2"/><circle cx="452.07" cy="562.55" r="1.1" fill="#bbc6e2"/><circle cx="453.44" cy="583.13" r="1.1" fill="#bbc6e2"/><circle cx="455.98" cy="539.63" r="1.1" fill="#bbc6e2"/><circle cx="455.15" cy="557.26" r="1.1" fill="#e3b9d7"/><circle cx="458.27" cy="546.01" r="1.1" fill="#e3b9d7"/><circle cx="453.57" cy="548.16" r="1.1" fill="#e3b9d7"/><circle cx="453.77" cy="588.58" r="1.1" fill="#e3b9d7"/><circle cx="472.38" cy="581.90" r="1.1" fill="#bbc6e2"/><circle cx="469.23" cy="579.03" r="1.1" fill="#bbc6e2"/><circle cx="468.09" cy="600.88" r="1.1" fill="#bbc6e2"/><circle cx="472.96" cy="557.32" r="1.1" fill="#bbc6e2"/><circle cx="469.27" cy="570.75" r="1.1" fill="#e3b9d7"/><circle cx="470.09" cy="593.03" r="1.1" fill="#e3b9d7"/><circle cx="470.46" cy="586.00" r="1.1" fill="#e3b9d7"/><circle cx="471.96" cy="585.15" r="1.1" fill="#e3b9d7"/><circle cx="487.19" cy="582.73" r="1.1" fill="#bbc6e2"/><circle cx="484.37" cy="590.57" r="1.1" fill="#bbc6e2"/><circle cx="486.66" cy="563.85" r="1.1" fill="#bbc6e2"/><circle cx="486.04" cy="568.25" r="1.1" fill="#bbc6e2"/><circle cx="492.05" cy="615.32" r="1.1" fill="#e3b9d7"/><circle cx="487.11" cy="596.45" r="1.1" fill="#e3b9d7"/><circle cx="491.67" cy="574.40" r="1.1" fill="#e3b9d7"/><circle cx="491.80" cy="614.38" r="1.1" fill="#e3b9d7"/><circle cx="447.17" cy="625.31" r="1.1" fill="#a3d4b2"/><circle cx="451.66" cy="624.52" r="1.1" fill="#a3d4b2"/><circle cx="449.73" cy="604.34" r="1.1" fill="#a3d4b2"/><circle cx="448.17" cy="600.24" r="1.1" fill="#a3d4b2"/><circle cx="430.03" cy="605.58" r="1.1" fill="#a3d4b2"/><circle cx="433.06" cy="602.18" r="1.1" fill="#a3d4b2"/><circle cx="427.82" cy="633.20" r="1.1" fill="#ddd2ac"/><circle cx="427.61" cy="629.67" r="1.1" fill="#ddd2ac"/><circle cx="426.37" cy="633.18" r="1.1" fill="#f0bec2"/><circle cx="427.55" cy="632.03" r="1.1" fill="#f0bec2"/><circle cx="448.41" cy="599.81" r="1.1" fill="#ddd2ac"/><circle cx="444.82" cy="627.71" r="1.1" fill="#ddd2ac"/><circle cx="447.16" cy="616.79" r="1.1" fill="#ddd2ac"/><circle cx="447.63" cy="612.90" r="1.1" fill="#ddd2ac"/><circle cx="469.06" cy="600.43" r="1.1" fill="#a0d9d8"/><circle cx="466.88" cy="608.27" r="1.1" fill="#a0d9d8"/><circle cx="506.09" cy="589.63" r="1.1" fill="#e3b9d7"/><circle cx="508.52" cy="591.96" r="1.1" fill="#e3b9d7"/><circle cx="506.71" cy="595.16" r="1.1" fill="#e3b9d7"/><circle cx="504.69" cy="597.31" r="1.1" fill="#e3b9d7"/><circle cx="433.89" cy="609.23" r="1.1" fill="#a0d9d8"/><circle cx="432.64" cy="609.48" r="1.1" fill="#a0d9d8"/><circle cx="502.01" cy="616.43" r="1.1" fill="#bbc6e2"/><circle cx="501.77" cy="618.26" r="1.1" fill="#bbc6e2"/><circle cx="428.64" cy="570.69" r="1.1" fill="#d4d4e4"/><circle cx="436.53" cy="572.53" r="1.1" fill="#d4d4e4"/><circle cx="433.78" cy="609.13" r="1.1" fill="#d4d4e4"/><circle cx="439.35" cy="579.67" r="1.1" fill="#d4d4e4"/><circle cx="446.53" cy="573.07" r="1.1" fill="#d4d4e4"/><circle cx="447.00" cy="616.11" r="1.1" fill="#d4d4e4"/><circle cx="454.69" cy="609.76" r="1.1" fill="#d4d4e4"/><circle cx="446.19" cy="554.76" r="1.1" fill="#d4d4e4"/><circle cx="472.59" cy="576.27" r="1.1" fill="#d4d4e4"/><circle cx="467.78" cy="607.78" r="1.1" fill="#d4d4e4"/><circle cx="466.84" cy="607.10" r="1.1" fill="#d4d4e4"/><circle cx="464.17" cy="576.69" r="1.1" fill="#d4d4e4"/><circle cx="486.15" cy="596.24" r="1.1" fill="#d4d4e4"/><circle cx="490.14" cy="578.67" r="1.1" fill="#d4d4e4"/><circle cx="483.42" cy="576.96" r="1.1" fill="#d4d4e4"/><circle cx="489.51" cy="603.74" r="1.1" fill="#d4d4e4"/><circle cx="505.14" cy="596.59" r="1.1" fill="#d4d4e4"/><circle cx="506.92" cy="603.56" r="1.1" fill="#d4d4e4"/><circle cx="497.69" cy="616.78" r="1.1" fill="#d4d4e4"/><circle cx="498.73" cy="599.38" r="1.1" fill="#d4d4e4"/><line x1="438.05" y1="616.51" x2="438.05" y2="553.47" stroke="#6A82C0" stroke-width="1.3"/><line x1="440.05" y1="612.57" x2="440.05" y2="555.44" stroke="#C265A8" stroke-width="1.3"/><line x1="454.90" y1="600.75" x2="454.90" y2="551.50" stroke="#6A82C0" stroke-width="1.3"/><line x1="456.90" y1="614.54" x2="456.90" y2="553.47" stroke="#C265A8" stroke-width="1.3"/><line x1="471.75" y1="604.69" x2="471.75" y2="557.41" stroke="#6A82C0" stroke-width="1.3"/><line x1="473.75" y1="598.78" x2="473.75" y2="573.17" stroke="#C265A8" stroke-width="1.3"/><line x1="488.60" y1="614.54" x2="488.60" y2="571.20" stroke="#6A82C0" stroke-width="1.3"/><line x1="490.60" y1="614.54" x2="490.60" y2="581.05" stroke="#C265A8" stroke-width="1.3"/><line x1="450.90" y1="626.36" x2="450.90" y2="594.84" stroke="#33A055" stroke-width="1.3"/><line x1="434.05" y1="604.69" x2="434.05" y2="590.90" stroke="#33A055" stroke-width="1.3"/><line x1="432.05" y1="632.27" x2="432.05" y2="612.57" stroke="#B49C48" stroke-width="1.3"/><line x1="430.05" y1="632.27" x2="430.05" y2="619.47" stroke="#DE6F78" stroke-width="1.3"/><line x1="448.90" y1="624.39" x2="448.90" y2="600.75" stroke="#B49C48" stroke-width="1.3"/><line x1="469.75" y1="610.60" x2="469.75" y2="598.78" stroke="#2CACAA" stroke-width="1.3"/><line x1="507.45" y1="616.51" x2="507.45" y2="594.84" stroke="#C265A8" stroke-width="1.3"/><line x1="436.05" y1="610.60" x2="436.05" y2="600.75" stroke="#2CACAA" stroke-width="1.3"/><line x1="505.45" y1="616.51" x2="505.45" y2="602.72" stroke="#6A82C0" stroke-width="1.3"/><polyline points="413.20,610.60 430.05,626.36 446.90,614.15 463.75,612.57 480.60,611.59 497.45,607.05" fill="none" stroke="#DE6F78" stroke-width="1.15" stroke-linejoin="round"/><circle cx="413.20" cy="610.60" r="1.5" fill="#DE6F78"/><circle cx="430.05" cy="626.36" r="1.5" fill="#DE6F78"/><circle cx="446.90" cy="614.15" r="1.5" fill="#DE6F78"/><circle cx="463.75" cy="612.57" r="1.5" fill="#DE6F78"/><circle cx="480.60" cy="611.59" r="1.5" fill="#DE6F78"/><circle cx="497.45" cy="607.05" r="1.5" fill="#DE6F78"/><polyline points="415.20,610.60 432.05,621.44 448.90,612.57 465.75,612.57 482.60,612.18 499.45,612.96" fill="none" stroke="#B49C48" stroke-width="1.15" stroke-linejoin="round"/><circle cx="415.20" cy="610.60" r="1.5" fill="#B49C48"/><circle cx="432.05" cy="621.44" r="1.5" fill="#B49C48"/><circle cx="448.90" cy="612.57" r="1.5" fill="#B49C48"/><circle cx="465.75" cy="612.57" r="1.5" fill="#B49C48"/><circle cx="482.60" cy="612.18" r="1.5" fill="#B49C48"/><circle cx="499.45" cy="612.96" r="1.5" fill="#B49C48"/><polyline points="417.20,610.60 434.05,596.61 450.90,604.89 467.75,606.07 484.60,612.18 501.45,610.21" fill="none" stroke="#33A055" stroke-width="1.15" stroke-linejoin="round"/><circle cx="417.20" cy="610.60" r="1.5" fill="#33A055"/><circle cx="434.05" cy="596.61" r="1.5" fill="#33A055"/><circle cx="450.90" cy="604.89" r="1.5" fill="#33A055"/><circle cx="467.75" cy="606.07" r="1.5" fill="#33A055"/><circle cx="484.60" cy="612.18" r="1.5" fill="#33A055"/><circle cx="501.45" cy="610.21" r="1.5" fill="#33A055"/><polyline points="419.20,610.60 436.05,605.87 452.90,610.99 469.75,604.89 486.60,610.21 503.45,612.18" fill="none" stroke="#2CACAA" stroke-width="1.15" stroke-linejoin="round"/><circle cx="419.20" cy="610.60" r="1.5" fill="#2CACAA"/><circle cx="436.05" cy="605.87" r="1.5" fill="#2CACAA"/><circle cx="452.90" cy="610.99" r="1.5" fill="#2CACAA"/><circle cx="469.75" cy="604.89" r="1.5" fill="#2CACAA"/><circle cx="486.60" cy="610.21" r="1.5" fill="#2CACAA"/><circle cx="503.45" cy="612.18" r="1.5" fill="#2CACAA"/><polyline points="421.20,610.60 438.05,576.32 454.90,569.23 471.75,583.81 488.60,590.31 505.45,607.05" fill="none" stroke="#6A82C0" stroke-width="1.15" stroke-linejoin="round"/><circle cx="421.20" cy="610.60" r="1.5" fill="#6A82C0"/><circle cx="438.05" cy="576.32" r="1.5" fill="#6A82C0"/><circle cx="454.90" cy="569.23" r="1.5" fill="#6A82C0"/><circle cx="471.75" cy="583.81" r="1.5" fill="#6A82C0"/><circle cx="488.60" cy="590.31" r="1.5" fill="#6A82C0"/><circle cx="505.45" cy="607.05" r="1.5" fill="#6A82C0"/><polyline points="423.20,610.60 440.05,587.35 456.90,580.46 473.75,583.81 490.60,595.63 507.45,604.89" fill="none" stroke="#C265A8" stroke-width="1.15" stroke-linejoin="round"/><circle cx="423.20" cy="610.60" r="1.5" fill="#C265A8"/><circle cx="440.05" cy="587.35" r="1.5" fill="#C265A8"/><circle cx="456.90" cy="580.46" r="1.5" fill="#C265A8"/><circle cx="473.75" cy="583.81" r="1.5" fill="#C265A8"/><circle cx="490.60" cy="595.63" r="1.5" fill="#C265A8"/><circle cx="507.45" cy="604.89" r="1.5" fill="#C265A8"/></g>
<rect x="408.1" y="531.0" width="104.29999999999995" height="107.29999999999995" fill="none" stroke="#000" stroke-width="1.3"/>
<line x1="403.80" y1="531.80" x2="408.10" y2="531.80" stroke="#222" stroke-width="1" />
<text x="401.90" y="535.30" font-size="8.6" text-anchor="end" fill="#1a1a1a" font-weight="normal" >4</text>
<line x1="403.80" y1="551.50" x2="408.10" y2="551.50" stroke="#222" stroke-width="1" />
<text x="401.90" y="555.00" font-size="8.6" text-anchor="end" fill="#1a1a1a" font-weight="normal" >3</text>
<line x1="403.80" y1="571.20" x2="408.10" y2="571.20" stroke="#222" stroke-width="1" />
<text x="401.90" y="574.70" font-size="8.6" text-anchor="end" fill="#1a1a1a" font-weight="normal" >2</text>
<line x1="403.80" y1="590.90" x2="408.10" y2="590.90" stroke="#222" stroke-width="1" />
<text x="401.90" y="594.40" font-size="8.6" text-anchor="end" fill="#1a1a1a" font-weight="normal" >1</text>
<line x1="403.80" y1="610.60" x2="408.10" y2="610.60" stroke="#222" stroke-width="1" />
<text x="401.90" y="614.10" font-size="8.6" text-anchor="end" fill="#1a1a1a" font-weight="normal" >0</text>
<line x1="403.80" y1="630.30" x2="408.10" y2="630.30" stroke="#222" stroke-width="1" />
<text x="401.90" y="633.80" font-size="8.6" text-anchor="end" fill="#1a1a1a" font-weight="normal" >−1</text>
<line x1="418.20" y1="638.30" x2="418.20" y2="642.30" stroke="#222" stroke-width="1" />
<line x1="435.05" y1="638.30" x2="435.05" y2="642.30" stroke="#222" stroke-width="1" />
<line x1="451.90" y1="638.30" x2="451.90" y2="642.30" stroke="#222" stroke-width="1" />
<line x1="468.75" y1="638.30" x2="468.75" y2="642.30" stroke="#222" stroke-width="1" />
<line x1="485.60" y1="638.30" x2="485.60" y2="642.30" stroke="#222" stroke-width="1" />
<line x1="502.45" y1="638.30" x2="502.45" y2="642.30" stroke="#222" stroke-width="1" />
<text x="407.80" y="526.90" font-size="8.8" text-anchor="start" fill="#1a1a1a" font-weight="normal" >TNFα</text>
<g transform="translate(414.00,644.20) rotate(-45)"><text x="0" y="6.1" font-size="8.0" text-anchor="end" fill="#1a1a1a">C1D1</text><text x="0" y="13.5" font-size="8.0" text-anchor="end" fill="#1a1a1a">Predose</text></g>
<g transform="translate(430.85,644.20) rotate(-45)"><text x="0" y="6.1" font-size="8.0" text-anchor="end" fill="#1a1a1a">C1D1</text><text x="0" y="13.5" font-size="8.0" text-anchor="end" fill="#1a1a1a">2 h</text></g>
<g transform="translate(447.70,644.20) rotate(-45)"><text x="0" y="6.1" font-size="8.0" text-anchor="end" fill="#1a1a1a">C1D1</text><text x="0" y="13.5" font-size="8.0" text-anchor="end" fill="#1a1a1a">6 h</text></g>
<g transform="translate(468.05,643.30) rotate(-45)"><text x="0" y="6.1" font-size="8.0" text-anchor="end" fill="#1a1a1a">C1D2</text></g>
<g transform="translate(484.90,643.30) rotate(-45)"><text x="0" y="6.1" font-size="8.0" text-anchor="end" fill="#1a1a1a">C1D3</text></g>
<g transform="translate(501.75,643.30) rotate(-45)"><text x="0" y="6.1" font-size="8.0" text-anchor="end" fill="#1a1a1a">C1D8</text></g>
<text transform="translate(13.9,586.3) rotate(-90)" font-size="9" text-anchor="middle" fill="#1a1a1a">Fold change from baseline</text>
<text x="0.00" y="523.20" font-size="10" text-anchor="start" fill="#000" font-weight="bold" >D</text>
<rect x="185.2" y="679.6" width="174.2" height="45" fill="#fff" stroke="#333" stroke-width="0.9"/>
<text x="272.20" y="690.40" font-size="8.75" text-anchor="middle" fill="#1a1a1a" font-weight="normal" >Priming dose</text>
<line x1="190.60" y1="700.40" x2="202.00" y2="700.40" stroke="#DE6F78" stroke-width="1.7" />
<circle cx="196.30" cy="700.40" r="2.0" fill="#DE6F78" />
<text x="203.80" y="703.70" font-size="9" text-anchor="start" fill="#1a1a1a" font-weight="normal" >0.001 mg</text>
<line x1="250.20" y1="700.40" x2="261.60" y2="700.40" stroke="#B49C48" stroke-width="1.7" />
<circle cx="255.90" cy="700.40" r="2.0" fill="#B49C48" />
<text x="263.40" y="703.70" font-size="9" text-anchor="start" fill="#1a1a1a" font-weight="normal" >0.003 mg</text>
<line x1="308.50" y1="700.40" x2="319.90" y2="700.40" stroke="#33A055" stroke-width="1.7" />
<circle cx="314.20" cy="700.40" r="2.0" fill="#33A055" />
<text x="321.70" y="703.70" font-size="9" text-anchor="start" fill="#1a1a1a" font-weight="normal" >0.01 mg</text>
<line x1="190.60" y1="711.30" x2="202.00" y2="711.30" stroke="#2CACAA" stroke-width="1.7" />
<circle cx="196.30" cy="711.30" r="2.0" fill="#2CACAA" />
<text x="203.80" y="714.60" font-size="9" text-anchor="start" fill="#1a1a1a" font-weight="normal" >0.03 mg</text>
<line x1="250.20" y1="711.30" x2="261.60" y2="711.30" stroke="#6A82C0" stroke-width="1.7" />
<circle cx="255.90" cy="711.30" r="2.0" fill="#6A82C0" />
<text x="263.40" y="714.60" font-size="9" text-anchor="start" fill="#1a1a1a" font-weight="normal" >0.1 mg</text>
<line x1="308.50" y1="711.30" x2="319.90" y2="711.30" stroke="#C265A8" stroke-width="1.7" />
<circle cx="314.20" cy="711.30" r="2.0" fill="#C265A8" />
<text x="321.70" y="714.60" font-size="9" text-anchor="start" fill="#1a1a1a" font-weight="normal" >0.3 mg</text>
</svg></body></html>
